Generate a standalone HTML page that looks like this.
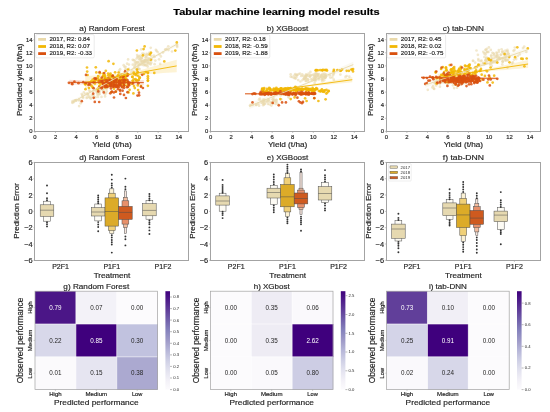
<!DOCTYPE html>
<html><head><meta charset="utf-8"><title>Tabular machine learning model results</title>
<style>html,body{margin:0;padding:0;background:#fff;width:550px;height:412px;overflow:hidden}svg{display:block;will-change:transform;filter:blur(0.3px)}text{font-family:"Liberation Sans",sans-serif;stroke:currentColor;stroke-width:0.18px;paint-order:stroke}</style>
</head><body>
<svg width="550" height="412" viewBox="0 0 550 412" font-family="Liberation Sans, sans-serif" fill="#262626" color="#262626"><g clip-path="url(#clipT0)">
<g fill="#e9d9ab" fill-opacity="0.6">
<circle cx="74.6" cy="100.4" r="1.35"/><circle cx="72.6" cy="101.1" r="1.35"/><circle cx="76.4" cy="100.6" r="1.35"/><circle cx="76.1" cy="100.2" r="1.35"/><circle cx="72.3" cy="102.8" r="1.35"/><circle cx="72.7" cy="102.1" r="1.35"/><circle cx="75.4" cy="100.6" r="1.35"/><circle cx="73.8" cy="102.1" r="1.35"/><circle cx="80.7" cy="103.3" r="1.35"/><circle cx="87.2" cy="97.5" r="1.35"/><circle cx="97.1" cy="93.1" r="1.35"/><circle cx="98.8" cy="94.3" r="1.35"/><circle cx="97.1" cy="91.8" r="1.35"/><circle cx="89.1" cy="90.4" r="1.35"/><circle cx="99.1" cy="88.8" r="1.35"/><circle cx="89.5" cy="97.6" r="1.35"/><circle cx="91.7" cy="95.0" r="1.35"/><circle cx="99.7" cy="91.4" r="1.35"/><circle cx="90.9" cy="97.7" r="1.35"/><circle cx="90.3" cy="91.5" r="1.35"/><circle cx="87.9" cy="95.2" r="1.35"/><circle cx="98.0" cy="97.0" r="1.35"/><circle cx="94.9" cy="89.8" r="1.35"/><circle cx="79.1" cy="99.6" r="1.35"/><circle cx="93.7" cy="96.4" r="1.35"/><circle cx="98.6" cy="92.6" r="1.35"/><circle cx="82.5" cy="95.2" r="1.35"/><circle cx="100.0" cy="89.2" r="1.35"/><circle cx="106.4" cy="88.9" r="1.35"/><circle cx="95.5" cy="97.3" r="1.35"/><circle cx="99.6" cy="93.9" r="1.35"/><circle cx="90.8" cy="98.7" r="1.35"/><circle cx="86.6" cy="97.9" r="1.35"/><circle cx="105.1" cy="96.4" r="1.35"/><circle cx="82.6" cy="96.9" r="1.35"/><circle cx="106.4" cy="88.3" r="1.35"/><circle cx="79.1" cy="106.1" r="1.35"/><circle cx="97.5" cy="95.0" r="1.35"/><circle cx="85.3" cy="93.8" r="1.35"/><circle cx="103.6" cy="90.4" r="1.35"/><circle cx="96.6" cy="91.8" r="1.35"/><circle cx="107.6" cy="87.8" r="1.35"/><circle cx="98.8" cy="90.8" r="1.35"/><circle cx="81.7" cy="94.1" r="1.35"/><circle cx="102.4" cy="89.7" r="1.35"/><circle cx="79.1" cy="100.5" r="1.35"/><circle cx="101.5" cy="96.9" r="1.35"/><circle cx="93.0" cy="91.2" r="1.35"/><circle cx="83.8" cy="92.4" r="1.35"/><circle cx="99.1" cy="92.8" r="1.35"/><circle cx="97.2" cy="91.0" r="1.35"/><circle cx="95.5" cy="90.1" r="1.35"/><circle cx="89.1" cy="96.7" r="1.35"/><circle cx="103.1" cy="90.9" r="1.35"/><circle cx="87.3" cy="93.3" r="1.35"/><circle cx="106.6" cy="91.2" r="1.35"/><circle cx="83.2" cy="97.8" r="1.35"/><circle cx="93.3" cy="95.0" r="1.35"/><circle cx="106.1" cy="93.1" r="1.35"/><circle cx="104.9" cy="94.2" r="1.35"/><circle cx="88.1" cy="94.0" r="1.35"/><circle cx="103.8" cy="88.3" r="1.35"/><circle cx="97.4" cy="92.4" r="1.35"/><circle cx="115.2" cy="77.9" r="1.35"/><circle cx="112.8" cy="78.1" r="1.35"/><circle cx="112.0" cy="80.6" r="1.35"/><circle cx="117.6" cy="77.0" r="1.35"/><circle cx="112.4" cy="77.6" r="1.35"/><circle cx="114.3" cy="84.2" r="1.35"/><circle cx="115.9" cy="81.6" r="1.35"/><circle cx="113.9" cy="77.5" r="1.35"/><circle cx="125.1" cy="69.7" r="1.35"/><circle cx="119.5" cy="77.6" r="1.35"/><circle cx="113.3" cy="78.0" r="1.35"/><circle cx="116.1" cy="77.2" r="1.35"/><circle cx="124.8" cy="73.9" r="1.35"/><circle cx="126.6" cy="72.5" r="1.35"/><circle cx="120.1" cy="74.0" r="1.35"/><circle cx="112.4" cy="77.5" r="1.35"/><circle cx="120.1" cy="69.2" r="1.35"/><circle cx="122.7" cy="76.5" r="1.35"/><circle cx="116.0" cy="80.9" r="1.35"/><circle cx="123.9" cy="73.1" r="1.35"/><circle cx="120.2" cy="76.3" r="1.35"/><circle cx="115.4" cy="83.1" r="1.35"/><circle cx="124.5" cy="66.8" r="1.35"/><circle cx="124.4" cy="75.2" r="1.35"/><circle cx="124.6" cy="74.6" r="1.35"/><circle cx="135.5" cy="68.5" r="1.35"/><circle cx="141.7" cy="61.1" r="1.35"/><circle cx="143.2" cy="62.6" r="1.35"/><circle cx="150.6" cy="64.4" r="1.35"/><circle cx="119.2" cy="78.9" r="1.35"/><circle cx="150.7" cy="47.8" r="1.35"/><circle cx="140.9" cy="64.8" r="1.35"/><circle cx="148.2" cy="60.1" r="1.35"/><circle cx="149.5" cy="58.3" r="1.35"/><circle cx="156.6" cy="50.9" r="1.35"/><circle cx="131.3" cy="72.0" r="1.35"/><circle cx="144.7" cy="60.9" r="1.35"/><circle cx="138.7" cy="68.8" r="1.35"/><circle cx="123.7" cy="65.2" r="1.35"/><circle cx="126.1" cy="69.3" r="1.35"/><circle cx="143.7" cy="60.7" r="1.35"/><circle cx="133.8" cy="60.2" r="1.35"/><circle cx="119.2" cy="72.0" r="1.35"/><circle cx="149.1" cy="52.9" r="1.35"/><circle cx="137.4" cy="62.2" r="1.35"/><circle cx="147.5" cy="54.6" r="1.35"/><circle cx="160.9" cy="56.4" r="1.35"/><circle cx="137.4" cy="57.0" r="1.35"/><circle cx="119.2" cy="70.5" r="1.35"/><circle cx="134.8" cy="66.5" r="1.35"/><circle cx="141.2" cy="49.4" r="1.35"/><circle cx="145.2" cy="64.9" r="1.35"/><circle cx="132.7" cy="59.8" r="1.35"/><circle cx="138.4" cy="56.8" r="1.35"/><circle cx="128.9" cy="64.6" r="1.35"/><circle cx="150.4" cy="61.0" r="1.35"/><circle cx="150.1" cy="63.4" r="1.35"/><circle cx="138.7" cy="65.3" r="1.35"/><circle cx="145.5" cy="57.5" r="1.35"/><circle cx="137.7" cy="69.6" r="1.35"/><circle cx="146.3" cy="56.9" r="1.35"/><circle cx="136.7" cy="58.5" r="1.35"/><circle cx="136.8" cy="69.4" r="1.35"/><circle cx="140.3" cy="57.4" r="1.35"/><circle cx="144.1" cy="61.5" r="1.35"/><circle cx="143.6" cy="60.9" r="1.35"/><circle cx="136.8" cy="71.3" r="1.35"/><circle cx="145.5" cy="65.4" r="1.35"/><circle cx="139.6" cy="69.0" r="1.35"/><circle cx="141.3" cy="61.9" r="1.35"/><circle cx="138.0" cy="66.7" r="1.35"/><circle cx="139.9" cy="64.2" r="1.35"/><circle cx="160.2" cy="63.9" r="1.35"/><circle cx="142.2" cy="61.5" r="1.35"/><circle cx="120.2" cy="74.1" r="1.35"/><circle cx="147.7" cy="66.6" r="1.35"/><circle cx="142.4" cy="64.0" r="1.35"/><circle cx="132.3" cy="70.2" r="1.35"/><circle cx="140.4" cy="55.5" r="1.35"/><circle cx="137.1" cy="55.1" r="1.35"/><circle cx="125.6" cy="66.8" r="1.35"/><circle cx="155.9" cy="49.8" r="1.35"/><circle cx="135.9" cy="62.1" r="1.35"/><circle cx="146.8" cy="62.8" r="1.35"/><circle cx="144.2" cy="61.5" r="1.35"/><circle cx="146.8" cy="65.2" r="1.35"/><circle cx="127.1" cy="63.7" r="1.35"/><circle cx="139.2" cy="64.4" r="1.35"/><circle cx="128.1" cy="59.4" r="1.35"/><circle cx="159.4" cy="54.4" r="1.35"/><circle cx="141.3" cy="57.6" r="1.35"/><circle cx="139.8" cy="77.6" r="1.35"/><circle cx="145.3" cy="59.9" r="1.35"/><circle cx="137.5" cy="68.7" r="1.35"/><circle cx="148.0" cy="62.4" r="1.35"/><circle cx="148.5" cy="63.8" r="1.35"/><circle cx="157.7" cy="52.0" r="1.35"/><circle cx="144.4" cy="62.5" r="1.35"/><circle cx="143.5" cy="65.2" r="1.35"/><circle cx="155.3" cy="60.6" r="1.35"/><circle cx="142.5" cy="53.5" r="1.35"/><circle cx="141.1" cy="60.2" r="1.35"/><circle cx="141.9" cy="62.4" r="1.35"/><circle cx="145.7" cy="60.6" r="1.35"/><circle cx="134.8" cy="60.5" r="1.35"/><circle cx="150.6" cy="52.3" r="1.35"/><circle cx="132.8" cy="64.7" r="1.35"/><circle cx="148.6" cy="54.9" r="1.35"/><circle cx="136.3" cy="64.3" r="1.35"/><circle cx="138.6" cy="56.1" r="1.35"/><circle cx="148.3" cy="62.3" r="1.35"/><circle cx="144.6" cy="55.1" r="1.35"/><circle cx="137.3" cy="62.8" r="1.35"/><circle cx="138.7" cy="61.9" r="1.35"/><circle cx="139.8" cy="59.3" r="1.35"/><circle cx="134.2" cy="67.5" r="1.35"/><circle cx="153.8" cy="55.7" r="1.35"/><circle cx="139.2" cy="58.8" r="1.35"/><circle cx="151.9" cy="59.5" r="1.35"/><circle cx="147.7" cy="59.9" r="1.35"/><circle cx="145.6" cy="60.0" r="1.35"/><circle cx="151.3" cy="62.7" r="1.35"/><circle cx="159.1" cy="59.3" r="1.35"/><circle cx="154.5" cy="57.0" r="1.35"/><circle cx="151.3" cy="56.1" r="1.35"/><circle cx="143.7" cy="53.8" r="1.35"/><circle cx="144.4" cy="64.6" r="1.35"/><circle cx="140.7" cy="73.9" r="1.35"/><circle cx="146.6" cy="53.9" r="1.35"/><circle cx="154.6" cy="64.2" r="1.35"/><circle cx="147.8" cy="58.3" r="1.35"/><circle cx="134.0" cy="71.7" r="1.35"/><circle cx="142.1" cy="57.7" r="1.35"/><circle cx="141.8" cy="58.5" r="1.35"/><circle cx="128.8" cy="68.9" r="1.35"/><circle cx="134.9" cy="65.0" r="1.35"/><circle cx="145.6" cy="60.0" r="1.35"/><circle cx="145.7" cy="61.5" r="1.35"/><circle cx="134.9" cy="62.9" r="1.35"/><circle cx="146.5" cy="55.7" r="1.35"/><circle cx="172.0" cy="51.5" r="1.35"/><circle cx="165.2" cy="49.5" r="1.35"/><circle cx="168.3" cy="46.3" r="1.35"/><circle cx="163.0" cy="52.4" r="1.35"/><circle cx="177.0" cy="44.4" r="1.35"/><circle cx="177.2" cy="46.9" r="1.35"/><circle cx="177.1" cy="45.7" r="1.35"/><circle cx="165.7" cy="49.5" r="1.35"/><circle cx="166.9" cy="48.9" r="1.35"/><circle cx="168.5" cy="50.1" r="1.35"/>
</g>
<polygon points="73.0,100.0 78.2,97.2 83.4,94.5 88.5,91.7 93.7,88.9 98.9,86.2 104.1,83.4 109.3,80.6 114.5,77.9 119.6,75.1 124.8,72.3 130.0,69.4 135.2,66.4 140.4,63.4 145.6,60.4 150.8,57.4 155.9,54.4 161.1,51.4 166.3,48.4 171.5,45.4 176.7,42.4 176.7,46.3 171.5,49.1 166.3,51.8 161.1,54.6 155.9,57.3 150.8,60.1 145.6,62.9 140.4,65.6 135.2,68.4 130.0,71.2 124.8,73.9 119.6,76.9 114.5,79.9 109.3,82.9 104.1,85.9 98.9,88.9 93.7,91.9 88.5,94.9 83.4,97.9 78.2,100.9 73.0,103.9" fill="#e9d9ab" fill-opacity="0.17"/>
<g fill="#f2b705" fill-opacity="0.85">
<circle cx="114.9" cy="80.7" r="1.35"/><circle cx="115.0" cy="80.4" r="1.35"/><circle cx="121.3" cy="80.7" r="1.35"/><circle cx="117.6" cy="76.0" r="1.35"/><circle cx="116.8" cy="79.4" r="1.35"/><circle cx="134.0" cy="86.1" r="1.35"/><circle cx="110.7" cy="84.7" r="1.35"/><circle cx="96.0" cy="78.6" r="1.35"/><circle cx="105.2" cy="87.4" r="1.35"/><circle cx="147.9" cy="72.6" r="1.35"/><circle cx="133.7" cy="79.3" r="1.35"/><circle cx="111.7" cy="75.5" r="1.35"/><circle cx="89.0" cy="88.0" r="1.35"/><circle cx="98.3" cy="80.8" r="1.35"/><circle cx="107.8" cy="86.4" r="1.35"/><circle cx="112.5" cy="76.1" r="1.35"/><circle cx="92.7" cy="79.5" r="1.35"/><circle cx="98.2" cy="76.2" r="1.35"/><circle cx="101.5" cy="82.7" r="1.35"/><circle cx="105.3" cy="78.7" r="1.35"/><circle cx="116.6" cy="81.5" r="1.35"/><circle cx="120.3" cy="76.6" r="1.35"/><circle cx="99.3" cy="86.3" r="1.35"/><circle cx="100.6" cy="83.9" r="1.35"/><circle cx="100.0" cy="73.2" r="1.35"/><circle cx="115.6" cy="80.2" r="1.35"/><circle cx="98.1" cy="88.6" r="1.35"/><circle cx="110.5" cy="73.6" r="1.35"/><circle cx="124.5" cy="79.3" r="1.35"/><circle cx="120.7" cy="80.4" r="1.35"/><circle cx="138.2" cy="75.8" r="1.35"/><circle cx="137.7" cy="72.6" r="1.35"/><circle cx="112.5" cy="84.4" r="1.35"/><circle cx="126.1" cy="82.4" r="1.35"/><circle cx="92.6" cy="87.4" r="1.35"/><circle cx="101.3" cy="79.2" r="1.35"/><circle cx="118.9" cy="80.0" r="1.35"/><circle cx="138.8" cy="80.0" r="1.35"/><circle cx="132.6" cy="76.9" r="1.35"/><circle cx="115.5" cy="81.0" r="1.35"/><circle cx="136.4" cy="80.7" r="1.35"/><circle cx="94.9" cy="83.6" r="1.35"/><circle cx="131.8" cy="83.8" r="1.35"/><circle cx="118.6" cy="72.5" r="1.35"/><circle cx="135.7" cy="74.1" r="1.35"/><circle cx="147.9" cy="76.2" r="1.35"/><circle cx="114.0" cy="88.7" r="1.35"/><circle cx="121.9" cy="74.5" r="1.35"/><circle cx="112.0" cy="80.9" r="1.35"/><circle cx="124.9" cy="76.2" r="1.35"/><circle cx="111.8" cy="82.8" r="1.35"/><circle cx="111.2" cy="92.1" r="1.35"/><circle cx="109.7" cy="74.8" r="1.35"/><circle cx="134.8" cy="88.1" r="1.35"/><circle cx="113.4" cy="81.4" r="1.35"/><circle cx="105.1" cy="76.8" r="1.35"/><circle cx="105.1" cy="80.8" r="1.35"/><circle cx="115.3" cy="85.3" r="1.35"/><circle cx="115.9" cy="81.0" r="1.35"/><circle cx="122.6" cy="81.8" r="1.35"/><circle cx="125.5" cy="79.1" r="1.35"/><circle cx="114.4" cy="80.2" r="1.35"/><circle cx="87.6" cy="75.0" r="1.35"/><circle cx="137.6" cy="80.4" r="1.35"/><circle cx="85.3" cy="84.2" r="1.35"/><circle cx="128.5" cy="92.4" r="1.35"/><circle cx="147.9" cy="80.8" r="1.35"/><circle cx="107.9" cy="84.3" r="1.35"/><circle cx="120.1" cy="77.6" r="1.35"/><circle cx="117.1" cy="78.1" r="1.35"/><circle cx="104.9" cy="77.9" r="1.35"/><circle cx="110.8" cy="81.2" r="1.35"/><circle cx="132.2" cy="76.9" r="1.35"/><circle cx="128.0" cy="69.5" r="1.35"/><circle cx="107.0" cy="78.5" r="1.35"/><circle cx="96.3" cy="72.4" r="1.35"/><circle cx="97.4" cy="89.1" r="1.35"/><circle cx="108.1" cy="73.6" r="1.35"/><circle cx="122.2" cy="87.0" r="1.35"/><circle cx="122.4" cy="81.9" r="1.35"/><circle cx="105.8" cy="70.8" r="1.35"/><circle cx="125.0" cy="75.5" r="1.35"/><circle cx="126.7" cy="81.3" r="1.35"/><circle cx="125.1" cy="80.1" r="1.35"/><circle cx="85.3" cy="83.5" r="1.35"/><circle cx="136.0" cy="80.1" r="1.35"/><circle cx="132.5" cy="80.8" r="1.35"/><circle cx="120.4" cy="78.0" r="1.35"/><circle cx="123.4" cy="74.8" r="1.35"/><circle cx="105.7" cy="79.2" r="1.35"/><circle cx="145.8" cy="72.1" r="1.35"/><circle cx="114.7" cy="78.3" r="1.35"/><circle cx="122.3" cy="75.9" r="1.35"/><circle cx="122.2" cy="76.6" r="1.35"/><circle cx="120.8" cy="80.0" r="1.35"/><circle cx="133.7" cy="72.5" r="1.35"/><circle cx="99.5" cy="85.9" r="1.35"/><circle cx="122.8" cy="84.0" r="1.35"/><circle cx="113.0" cy="81.3" r="1.35"/><circle cx="119.5" cy="81.9" r="1.35"/><circle cx="147.9" cy="73.1" r="1.35"/><circle cx="127.2" cy="85.5" r="1.35"/><circle cx="94.2" cy="81.4" r="1.35"/><circle cx="126.2" cy="79.1" r="1.35"/><circle cx="129.6" cy="89.8" r="1.35"/><circle cx="127.0" cy="73.5" r="1.35"/><circle cx="91.3" cy="81.3" r="1.35"/><circle cx="115.6" cy="82.7" r="1.35"/><circle cx="85.5" cy="89.2" r="1.35"/><circle cx="118.3" cy="75.2" r="1.35"/><circle cx="115.1" cy="72.3" r="1.35"/><circle cx="103.2" cy="73.6" r="1.35"/><circle cx="85.3" cy="83.0" r="1.35"/><circle cx="122.0" cy="76.3" r="1.35"/><circle cx="129.5" cy="83.5" r="1.35"/><circle cx="85.3" cy="84.3" r="1.35"/><circle cx="94.7" cy="81.7" r="1.35"/><circle cx="99.3" cy="83.0" r="1.35"/><circle cx="113.8" cy="79.6" r="1.35"/><circle cx="104.8" cy="75.2" r="1.35"/><circle cx="105.1" cy="82.0" r="1.35"/><circle cx="122.2" cy="79.6" r="1.35"/><circle cx="135.5" cy="79.0" r="1.35"/><circle cx="108.4" cy="75.6" r="1.35"/><circle cx="122.6" cy="83.5" r="1.35"/><circle cx="108.0" cy="79.8" r="1.35"/><circle cx="134.3" cy="74.4" r="1.35"/><circle cx="115.9" cy="91.7" r="1.35"/><circle cx="124.0" cy="85.4" r="1.35"/><circle cx="91.6" cy="85.9" r="1.35"/><circle cx="116.7" cy="79.8" r="1.35"/><circle cx="147.9" cy="78.2" r="1.35"/><circle cx="103.3" cy="75.9" r="1.35"/><circle cx="117.4" cy="82.2" r="1.35"/><circle cx="101.7" cy="81.8" r="1.35"/><circle cx="136.4" cy="75.2" r="1.35"/><circle cx="110.4" cy="76.5" r="1.35"/><circle cx="117.9" cy="86.2" r="1.35"/><circle cx="125.5" cy="76.5" r="1.35"/><circle cx="139.4" cy="78.3" r="1.35"/><circle cx="98.1" cy="78.4" r="1.35"/><circle cx="147.9" cy="80.4" r="1.35"/><circle cx="139.7" cy="77.4" r="1.35"/><circle cx="125.2" cy="79.0" r="1.35"/><circle cx="103.1" cy="76.1" r="1.35"/><circle cx="110.1" cy="79.4" r="1.35"/><circle cx="124.5" cy="85.3" r="1.35"/><circle cx="125.7" cy="76.7" r="1.35"/><circle cx="112.5" cy="83.0" r="1.35"/><circle cx="121.3" cy="77.0" r="1.35"/><circle cx="87.0" cy="67.5" r="1.35"/><circle cx="87.2" cy="71.6" r="1.35"/><circle cx="113.4" cy="63.8" r="1.35"/><circle cx="108.6" cy="61.2" r="1.35"/><circle cx="95.8" cy="67.3" r="1.35"/><circle cx="143.6" cy="49.1" r="1.35"/><circle cx="137.0" cy="69.7" r="1.35"/><circle cx="164.3" cy="61.4" r="1.35"/><circle cx="149.9" cy="54.4" r="1.35"/><circle cx="142.9" cy="55.4" r="1.35"/><circle cx="150.8" cy="59.7" r="1.35"/><circle cx="176.8" cy="42.4" r="1.35"/><circle cx="144.6" cy="46.4" r="1.35"/><circle cx="151.0" cy="52.8" r="1.35"/><circle cx="154.3" cy="72.9" r="1.35"/><circle cx="137.7" cy="72.1" r="1.35"/><circle cx="175.3" cy="50.6" r="1.35"/><circle cx="143.9" cy="73.9" r="1.35"/><circle cx="136.9" cy="50.5" r="1.35"/><circle cx="141.0" cy="86.1" r="1.35"/><circle cx="133.4" cy="93.4" r="1.35"/><circle cx="133.2" cy="81.4" r="1.35"/><circle cx="137.8" cy="85.4" r="1.35"/><circle cx="147.9" cy="85.8" r="1.35"/><circle cx="138.1" cy="90.0" r="1.35"/>
</g>
<polygon points="85.3,76.1 89.9,75.8 94.4,75.4 99.0,75.1 103.6,74.8 108.1,74.4 112.7,74.1 117.3,73.8 121.9,73.5 126.4,73.1 131.0,72.8 135.6,71.5 140.1,70.2 144.7,68.9 149.3,67.6 153.8,66.3 158.4,65.0 163.0,63.6 167.5,62.3 172.1,61.0 176.7,59.7 176.7,72.2 172.1,72.5 167.5,72.8 163.0,73.1 158.4,73.5 153.8,73.8 149.3,74.1 144.7,74.4 140.1,74.8 135.6,75.1 131.0,75.4 126.4,76.7 121.9,78.0 117.3,79.4 112.7,80.7 108.1,82.0 103.6,83.3 99.0,84.6 94.4,85.9 89.9,87.2 85.3,88.5" fill="#f2b705" fill-opacity="0.17"/>
<g fill="#d9510f" fill-opacity="0.85">
<circle cx="129.1" cy="85.3" r="1.35"/><circle cx="112.7" cy="76.4" r="1.35"/><circle cx="110.4" cy="80.2" r="1.35"/><circle cx="133.0" cy="83.4" r="1.35"/><circle cx="127.9" cy="86.9" r="1.35"/><circle cx="116.4" cy="84.0" r="1.35"/><circle cx="115.4" cy="78.4" r="1.35"/><circle cx="141.0" cy="86.7" r="1.35"/><circle cx="107.6" cy="81.3" r="1.35"/><circle cx="102.1" cy="81.3" r="1.35"/><circle cx="120.5" cy="84.9" r="1.35"/><circle cx="120.1" cy="90.7" r="1.35"/><circle cx="122.6" cy="90.7" r="1.35"/><circle cx="106.2" cy="86.2" r="1.35"/><circle cx="109.5" cy="79.7" r="1.35"/><circle cx="115.0" cy="85.4" r="1.35"/><circle cx="120.2" cy="76.4" r="1.35"/><circle cx="114.1" cy="81.9" r="1.35"/><circle cx="128.1" cy="82.4" r="1.35"/><circle cx="99.6" cy="72.2" r="1.35"/><circle cx="139.0" cy="92.7" r="1.35"/><circle cx="113.6" cy="81.7" r="1.35"/><circle cx="125.0" cy="80.5" r="1.35"/><circle cx="111.0" cy="88.4" r="1.35"/><circle cx="115.2" cy="78.9" r="1.35"/><circle cx="101.7" cy="88.3" r="1.35"/><circle cx="113.8" cy="92.5" r="1.35"/><circle cx="111.1" cy="85.6" r="1.35"/><circle cx="119.1" cy="86.8" r="1.35"/><circle cx="104.1" cy="85.4" r="1.35"/><circle cx="113.5" cy="86.7" r="1.35"/><circle cx="114.2" cy="80.2" r="1.35"/><circle cx="127.4" cy="75.8" r="1.35"/><circle cx="105.2" cy="85.5" r="1.35"/><circle cx="86.0" cy="74.9" r="1.35"/><circle cx="105.9" cy="83.8" r="1.35"/><circle cx="120.0" cy="89.8" r="1.35"/><circle cx="119.3" cy="83.7" r="1.35"/><circle cx="93.4" cy="82.3" r="1.35"/><circle cx="127.5" cy="92.2" r="1.35"/><circle cx="123.2" cy="82.7" r="1.35"/><circle cx="119.4" cy="81.6" r="1.35"/><circle cx="128.8" cy="84.6" r="1.35"/><circle cx="123.9" cy="85.5" r="1.35"/><circle cx="122.3" cy="87.3" r="1.35"/><circle cx="112.8" cy="75.7" r="1.35"/><circle cx="119.1" cy="84.3" r="1.35"/><circle cx="101.1" cy="87.2" r="1.35"/><circle cx="116.2" cy="79.3" r="1.35"/><circle cx="118.9" cy="81.2" r="1.35"/><circle cx="113.6" cy="77.4" r="1.35"/><circle cx="109.6" cy="86.1" r="1.35"/><circle cx="124.1" cy="83.3" r="1.35"/><circle cx="110.9" cy="86.2" r="1.35"/><circle cx="111.2" cy="80.8" r="1.35"/><circle cx="118.0" cy="89.2" r="1.35"/><circle cx="118.9" cy="82.8" r="1.35"/><circle cx="102.8" cy="80.1" r="1.35"/><circle cx="110.9" cy="85.1" r="1.35"/><circle cx="123.0" cy="77.6" r="1.35"/><circle cx="106.3" cy="81.6" r="1.35"/><circle cx="104.2" cy="73.0" r="1.35"/><circle cx="108.5" cy="78.1" r="1.35"/><circle cx="106.7" cy="79.9" r="1.35"/><circle cx="139.1" cy="95.3" r="1.35"/><circle cx="109.1" cy="81.3" r="1.35"/><circle cx="113.0" cy="86.7" r="1.35"/><circle cx="138.4" cy="83.2" r="1.35"/><circle cx="95.5" cy="79.7" r="1.35"/><circle cx="94.6" cy="78.3" r="1.35"/><circle cx="107.5" cy="82.9" r="1.35"/><circle cx="128.3" cy="83.1" r="1.35"/><circle cx="98.3" cy="91.4" r="1.35"/><circle cx="127.4" cy="80.2" r="1.35"/><circle cx="104.8" cy="79.7" r="1.35"/><circle cx="119.7" cy="80.6" r="1.35"/><circle cx="88.5" cy="85.0" r="1.35"/><circle cx="124.2" cy="80.2" r="1.35"/><circle cx="124.0" cy="94.9" r="1.35"/><circle cx="116.0" cy="81.4" r="1.35"/><circle cx="142.9" cy="88.0" r="1.35"/><circle cx="110.3" cy="83.4" r="1.35"/><circle cx="124.1" cy="85.6" r="1.35"/><circle cx="127.0" cy="87.2" r="1.35"/><circle cx="117.1" cy="86.0" r="1.35"/><circle cx="115.8" cy="86.8" r="1.35"/><circle cx="96.0" cy="78.6" r="1.35"/><circle cx="117.5" cy="86.2" r="1.35"/><circle cx="116.3" cy="79.1" r="1.35"/><circle cx="103.0" cy="84.1" r="1.35"/><circle cx="120.1" cy="81.2" r="1.35"/><circle cx="110.3" cy="93.3" r="1.35"/><circle cx="128.1" cy="82.1" r="1.35"/><circle cx="114.2" cy="84.9" r="1.35"/><circle cx="117.0" cy="85.6" r="1.35"/><circle cx="102.5" cy="87.0" r="1.35"/><circle cx="107.3" cy="86.4" r="1.35"/><circle cx="101.0" cy="80.7" r="1.35"/><circle cx="99.3" cy="80.6" r="1.35"/><circle cx="102.6" cy="82.0" r="1.35"/><circle cx="129.6" cy="82.7" r="1.35"/><circle cx="105.8" cy="83.4" r="1.35"/><circle cx="115.7" cy="91.6" r="1.35"/><circle cx="107.2" cy="82.9" r="1.35"/><circle cx="108.8" cy="83.2" r="1.35"/><circle cx="122.3" cy="80.1" r="1.35"/><circle cx="124.3" cy="80.9" r="1.35"/><circle cx="110.8" cy="83.7" r="1.35"/><circle cx="111.0" cy="85.0" r="1.35"/><circle cx="112.0" cy="91.5" r="1.35"/><circle cx="110.3" cy="83.7" r="1.35"/><circle cx="103.1" cy="83.7" r="1.35"/><circle cx="119.9" cy="84.4" r="1.35"/><circle cx="137.5" cy="95.6" r="1.35"/><circle cx="111.7" cy="92.0" r="1.35"/><circle cx="125.1" cy="71.4" r="1.35"/><circle cx="85.8" cy="83.0" r="1.35"/><circle cx="119.9" cy="85.0" r="1.35"/><circle cx="120.3" cy="93.9" r="1.35"/><circle cx="123.7" cy="81.9" r="1.35"/><circle cx="114.3" cy="86.3" r="1.35"/><circle cx="121.3" cy="85.8" r="1.35"/><circle cx="116.6" cy="85.9" r="1.35"/><circle cx="88.7" cy="83.8" r="1.35"/><circle cx="116.3" cy="80.2" r="1.35"/><circle cx="104.2" cy="83.8" r="1.35"/><circle cx="121.0" cy="82.9" r="1.35"/><circle cx="128.1" cy="74.5" r="1.35"/><circle cx="103.8" cy="92.4" r="1.35"/><circle cx="123.7" cy="76.6" r="1.35"/><circle cx="124.5" cy="79.9" r="1.35"/><circle cx="107.1" cy="86.9" r="1.35"/><circle cx="124.1" cy="87.8" r="1.35"/><circle cx="93.6" cy="88.2" r="1.35"/><circle cx="142.2" cy="74.8" r="1.35"/><circle cx="106.3" cy="86.9" r="1.35"/><circle cx="116.7" cy="87.0" r="1.35"/><circle cx="128.8" cy="84.0" r="1.35"/><circle cx="101.8" cy="77.6" r="1.35"/><circle cx="107.5" cy="82.6" r="1.35"/><circle cx="113.9" cy="85.1" r="1.35"/><circle cx="117.7" cy="86.8" r="1.35"/><circle cx="93.2" cy="93.7" r="1.35"/><circle cx="99.7" cy="87.1" r="1.35"/><circle cx="113.8" cy="83.4" r="1.35"/><circle cx="120.3" cy="83.1" r="1.35"/><circle cx="105.1" cy="86.9" r="1.35"/><circle cx="90.1" cy="84.4" r="1.35"/><circle cx="119.5" cy="81.2" r="1.35"/><circle cx="112.7" cy="84.4" r="1.35"/><circle cx="68.9" cy="82.8" r="1.35"/><circle cx="74.4" cy="81.7" r="1.35"/><circle cx="72.3" cy="84.2" r="1.35"/><circle cx="72.0" cy="83.4" r="1.35"/><circle cx="78.5" cy="83.2" r="1.35"/><circle cx="83.3" cy="82.2" r="1.35"/><circle cx="93.7" cy="97.8" r="1.35"/><circle cx="114.0" cy="97.5" r="1.35"/><circle cx="125.9" cy="98.0" r="1.35"/><circle cx="94.8" cy="101.9" r="1.35"/><circle cx="81.8" cy="101.2" r="1.35"/><circle cx="99.2" cy="102.0" r="1.35"/>
</g>
<polygon points="69.4,79.7 73.1,79.9 76.8,80.1 80.6,80.3 84.3,80.5 88.0,80.7 91.7,80.9 95.4,81.1 99.2,81.3 102.9,81.5 106.6,81.7 110.3,81.5 114.1,81.3 117.8,81.2 121.5,81.0 125.2,80.8 128.9,80.7 132.7,80.5 136.4,80.3 140.1,80.2 143.8,80.0 143.8,85.2 140.1,85.0 136.4,84.8 132.7,84.6 128.9,84.4 125.2,84.2 121.5,84.0 117.8,83.8 114.1,83.6 110.3,83.4 106.6,83.2 102.9,83.4 99.2,83.6 95.4,83.8 91.7,83.9 88.0,84.1 84.3,84.3 80.6,84.4 76.8,84.6 73.1,84.8 69.4,84.9" fill="#d9510f" fill-opacity="0.17"/>
<line x1="73.0" y1="101.9" x2="176.7" y2="44.3" stroke="#e9d9ab" stroke-width="0.9"/>
<line x1="85.3" y1="82.3" x2="176.7" y2="65.9" stroke="#f2b705" stroke-width="0.9"/>
<line x1="69.4" y1="82.3" x2="143.8" y2="82.6" stroke="#d9510f" stroke-width="0.9"/>
</g>
<rect x="34.5" y="33.5" width="154.0" height="98" fill="none" stroke="#a3a3a3" stroke-width="1"/>
<line x1="35.0" y1="131.4" x2="35.0" y2="133.0" stroke="#a3a3a3" stroke-width="0.6"/>
<text x="35.00" y="138.90" font-size="5.9" text-anchor="middle">0</text>
<line x1="35.0" y1="131.4" x2="33.4" y2="131.4" stroke="#a3a3a3" stroke-width="0.6"/>
<text x="32.60" y="133.45" font-size="5.9" text-anchor="end">0</text>
<line x1="55.5" y1="131.4" x2="55.5" y2="133.0" stroke="#a3a3a3" stroke-width="0.6"/>
<text x="55.53" y="138.90" font-size="5.9" text-anchor="middle">2</text>
<line x1="35.0" y1="118.3" x2="33.4" y2="118.3" stroke="#a3a3a3" stroke-width="0.6"/>
<text x="32.60" y="120.36" font-size="5.9" text-anchor="end">2</text>
<line x1="76.1" y1="131.4" x2="76.1" y2="133.0" stroke="#a3a3a3" stroke-width="0.6"/>
<text x="76.07" y="138.90" font-size="5.9" text-anchor="middle">4</text>
<line x1="35.0" y1="105.2" x2="33.4" y2="105.2" stroke="#a3a3a3" stroke-width="0.6"/>
<text x="32.60" y="107.26" font-size="5.9" text-anchor="end">4</text>
<line x1="96.6" y1="131.4" x2="96.6" y2="133.0" stroke="#a3a3a3" stroke-width="0.6"/>
<text x="96.60" y="138.90" font-size="5.9" text-anchor="middle">6</text>
<line x1="35.0" y1="92.1" x2="33.4" y2="92.1" stroke="#a3a3a3" stroke-width="0.6"/>
<text x="32.60" y="94.17" font-size="5.9" text-anchor="end">6</text>
<line x1="117.1" y1="131.4" x2="117.1" y2="133.0" stroke="#a3a3a3" stroke-width="0.6"/>
<text x="117.13" y="138.90" font-size="5.9" text-anchor="middle">8</text>
<line x1="35.0" y1="79.0" x2="33.4" y2="79.0" stroke="#a3a3a3" stroke-width="0.6"/>
<text x="32.60" y="81.08" font-size="5.9" text-anchor="end">8</text>
<line x1="137.7" y1="131.4" x2="137.7" y2="133.0" stroke="#a3a3a3" stroke-width="0.6"/>
<text x="137.67" y="138.90" font-size="5.9" text-anchor="middle">10</text>
<line x1="35.0" y1="65.9" x2="33.4" y2="65.9" stroke="#a3a3a3" stroke-width="0.6"/>
<text x="32.60" y="67.98" font-size="5.9" text-anchor="end">10</text>
<line x1="158.2" y1="131.4" x2="158.2" y2="133.0" stroke="#a3a3a3" stroke-width="0.6"/>
<text x="158.20" y="138.90" font-size="5.9" text-anchor="middle">12</text>
<line x1="35.0" y1="52.8" x2="33.4" y2="52.8" stroke="#a3a3a3" stroke-width="0.6"/>
<text x="32.60" y="54.89" font-size="5.9" text-anchor="end">12</text>
<line x1="178.7" y1="131.4" x2="178.7" y2="133.0" stroke="#a3a3a3" stroke-width="0.6"/>
<text x="178.73" y="138.90" font-size="5.9" text-anchor="middle">14</text>
<line x1="35.0" y1="39.7" x2="33.4" y2="39.7" stroke="#a3a3a3" stroke-width="0.6"/>
<text x="32.60" y="41.80" font-size="5.9" text-anchor="end">14</text>
<text x="112.00" y="31.10" font-size="7.7" text-anchor="middle" textLength="65.5" lengthAdjust="spacingAndGlyphs">a) Random Forest</text>
<text x="112.00" y="146.60" font-size="7.5" text-anchor="middle" textLength="39.4" lengthAdjust="spacingAndGlyphs">Yield (t/ha)</text>
<text x="21.60" y="79.80" font-size="7.5" text-anchor="middle" textLength="72.5" lengthAdjust="spacingAndGlyphs" transform="rotate(-90 21.60 79.80)">Predicted yield (t/ha)</text>
<rect x="35.8" y="34.6" width="58.4" height="23.3" rx="1.2" fill="#ffffff" fill-opacity="0.8" stroke="#dddddd" stroke-width="0.6"/>
<rect x="38.2" y="38.0" width="7.8" height="2.8" fill="#e9d9ab"/>
<text x="49.40" y="41.00" font-size="6.2" text-anchor="start">2017, R2: 0.84</text>
<rect x="38.2" y="45.1" width="7.8" height="2.8" fill="#f2b705"/>
<text x="49.40" y="48.10" font-size="6.2" text-anchor="start">2018, R2: 0.07</text>
<rect x="38.2" y="52.2" width="7.8" height="2.8" fill="#d9510f"/>
<text x="49.40" y="55.20" font-size="6.2" text-anchor="start">2019, R2: -0.33</text>
<g clip-path="url(#clipT1)">
<g fill="#e9d9ab" fill-opacity="0.6">
<circle cx="271.4" cy="105.6" r="1.35"/><circle cx="273.2" cy="99.7" r="1.35"/><circle cx="263.7" cy="100.8" r="1.35"/><circle cx="269.2" cy="101.6" r="1.35"/><circle cx="266.8" cy="101.2" r="1.35"/><circle cx="274.0" cy="100.6" r="1.35"/><circle cx="259.1" cy="105.7" r="1.35"/><circle cx="261.6" cy="102.8" r="1.35"/><circle cx="262.7" cy="103.1" r="1.35"/><circle cx="271.4" cy="102.8" r="1.35"/><circle cx="274.7" cy="100.5" r="1.35"/><circle cx="264.7" cy="99.8" r="1.35"/><circle cx="259.8" cy="98.6" r="1.35"/><circle cx="272.8" cy="103.5" r="1.35"/><circle cx="259.0" cy="99.5" r="1.35"/><circle cx="267.9" cy="104.0" r="1.35"/><circle cx="273.3" cy="102.6" r="1.35"/><circle cx="260.9" cy="100.9" r="1.35"/><circle cx="263.4" cy="99.6" r="1.35"/><circle cx="273.5" cy="100.9" r="1.35"/><circle cx="272.4" cy="99.5" r="1.35"/><circle cx="264.0" cy="103.8" r="1.35"/><circle cx="269.7" cy="104.5" r="1.35"/><circle cx="269.1" cy="99.9" r="1.35"/><circle cx="264.0" cy="104.5" r="1.35"/><circle cx="263.1" cy="105.2" r="1.35"/><circle cx="276.0" cy="99.8" r="1.35"/><circle cx="263.5" cy="101.1" r="1.35"/><circle cx="273.4" cy="98.2" r="1.35"/><circle cx="265.2" cy="102.4" r="1.35"/><circle cx="276.0" cy="102.0" r="1.35"/><circle cx="276.6" cy="100.0" r="1.35"/><circle cx="271.2" cy="102.3" r="1.35"/><circle cx="278.0" cy="104.0" r="1.35"/><circle cx="268.0" cy="99.7" r="1.35"/><circle cx="275.6" cy="103.9" r="1.35"/><circle cx="267.4" cy="101.7" r="1.35"/><circle cx="264.9" cy="103.8" r="1.35"/><circle cx="263.0" cy="101.9" r="1.35"/><circle cx="276.6" cy="101.8" r="1.35"/><circle cx="250.9" cy="105.2" r="1.35"/><circle cx="258.2" cy="103.6" r="1.35"/><circle cx="252.8" cy="105.0" r="1.35"/><circle cx="250.0" cy="105.6" r="1.35"/><circle cx="256.0" cy="104.9" r="1.35"/><circle cx="256.4" cy="104.9" r="1.35"/><circle cx="326.1" cy="75.9" r="1.35"/><circle cx="298.6" cy="74.0" r="1.35"/><circle cx="322.3" cy="81.2" r="1.35"/><circle cx="333.0" cy="75.3" r="1.35"/><circle cx="333.8" cy="79.7" r="1.35"/><circle cx="318.2" cy="76.1" r="1.35"/><circle cx="314.5" cy="76.7" r="1.35"/><circle cx="324.1" cy="80.3" r="1.35"/><circle cx="298.2" cy="80.1" r="1.35"/><circle cx="305.9" cy="78.4" r="1.35"/><circle cx="316.4" cy="76.5" r="1.35"/><circle cx="312.6" cy="78.5" r="1.35"/><circle cx="307.2" cy="75.0" r="1.35"/><circle cx="320.9" cy="76.8" r="1.35"/><circle cx="308.6" cy="73.7" r="1.35"/><circle cx="305.5" cy="75.7" r="1.35"/><circle cx="325.3" cy="77.6" r="1.35"/><circle cx="321.6" cy="79.5" r="1.35"/><circle cx="323.7" cy="76.6" r="1.35"/><circle cx="294.3" cy="75.6" r="1.35"/><circle cx="302.2" cy="74.3" r="1.35"/><circle cx="304.6" cy="77.4" r="1.35"/><circle cx="315.4" cy="77.8" r="1.35"/><circle cx="315.2" cy="78.3" r="1.35"/><circle cx="319.8" cy="77.1" r="1.35"/><circle cx="314.6" cy="83.0" r="1.35"/><circle cx="325.4" cy="77.0" r="1.35"/><circle cx="292.1" cy="76.9" r="1.35"/><circle cx="317.5" cy="74.7" r="1.35"/><circle cx="300.0" cy="73.7" r="1.35"/><circle cx="310.4" cy="71.9" r="1.35"/><circle cx="310.6" cy="75.6" r="1.35"/><circle cx="308.1" cy="79.5" r="1.35"/><circle cx="324.6" cy="75.1" r="1.35"/><circle cx="329.6" cy="75.2" r="1.35"/><circle cx="305.8" cy="80.7" r="1.35"/><circle cx="304.9" cy="78.5" r="1.35"/><circle cx="303.0" cy="75.8" r="1.35"/><circle cx="315.9" cy="77.6" r="1.35"/><circle cx="314.2" cy="77.4" r="1.35"/><circle cx="314.6" cy="75.4" r="1.35"/><circle cx="323.1" cy="78.5" r="1.35"/><circle cx="295.2" cy="74.0" r="1.35"/><circle cx="313.5" cy="74.7" r="1.35"/><circle cx="293.7" cy="77.8" r="1.35"/><circle cx="312.5" cy="80.2" r="1.35"/><circle cx="306.4" cy="75.5" r="1.35"/><circle cx="324.4" cy="73.6" r="1.35"/><circle cx="302.5" cy="80.1" r="1.35"/><circle cx="318.1" cy="75.0" r="1.35"/><circle cx="314.4" cy="79.9" r="1.35"/><circle cx="321.1" cy="75.4" r="1.35"/><circle cx="318.5" cy="78.1" r="1.35"/><circle cx="315.7" cy="75.4" r="1.35"/><circle cx="305.9" cy="81.0" r="1.35"/><circle cx="316.0" cy="76.0" r="1.35"/><circle cx="312.4" cy="75.1" r="1.35"/><circle cx="305.6" cy="77.2" r="1.35"/><circle cx="308.8" cy="75.8" r="1.35"/><circle cx="330.3" cy="77.6" r="1.35"/><circle cx="333.8" cy="73.8" r="1.35"/><circle cx="321.2" cy="75.8" r="1.35"/><circle cx="332.2" cy="77.5" r="1.35"/><circle cx="311.0" cy="79.4" r="1.35"/><circle cx="317.6" cy="74.2" r="1.35"/><circle cx="318.3" cy="76.1" r="1.35"/><circle cx="310.0" cy="76.7" r="1.35"/><circle cx="296.1" cy="74.8" r="1.35"/><circle cx="307.6" cy="79.4" r="1.35"/><circle cx="303.8" cy="78.8" r="1.35"/><circle cx="321.9" cy="74.8" r="1.35"/><circle cx="296.9" cy="75.1" r="1.35"/><circle cx="322.3" cy="78.3" r="1.35"/><circle cx="295.5" cy="78.7" r="1.35"/><circle cx="305.1" cy="76.3" r="1.35"/><circle cx="308.2" cy="81.4" r="1.35"/><circle cx="314.9" cy="80.4" r="1.35"/><circle cx="322.5" cy="79.7" r="1.35"/><circle cx="304.4" cy="78.9" r="1.35"/><circle cx="306.1" cy="74.3" r="1.35"/><circle cx="321.9" cy="75.8" r="1.35"/><circle cx="315.8" cy="80.4" r="1.35"/><circle cx="306.4" cy="78.3" r="1.35"/><circle cx="301.2" cy="76.0" r="1.35"/><circle cx="303.9" cy="78.6" r="1.35"/><circle cx="300.4" cy="81.5" r="1.35"/><circle cx="319.0" cy="74.2" r="1.35"/><circle cx="314.2" cy="79.2" r="1.35"/><circle cx="290.7" cy="76.7" r="1.35"/><circle cx="326.0" cy="76.4" r="1.35"/><circle cx="322.7" cy="73.9" r="1.35"/><circle cx="325.0" cy="78.0" r="1.35"/><circle cx="324.1" cy="75.4" r="1.35"/><circle cx="294.9" cy="77.9" r="1.35"/><circle cx="296.2" cy="77.3" r="1.35"/><circle cx="318.8" cy="79.4" r="1.35"/><circle cx="290.7" cy="74.3" r="1.35"/><circle cx="316.5" cy="73.9" r="1.35"/><circle cx="297.3" cy="74.8" r="1.35"/><circle cx="333.8" cy="72.7" r="1.35"/><circle cx="309.9" cy="76.5" r="1.35"/><circle cx="310.5" cy="74.9" r="1.35"/><circle cx="324.0" cy="76.9" r="1.35"/><circle cx="296.9" cy="75.5" r="1.35"/><circle cx="306.9" cy="75.7" r="1.35"/><circle cx="315.2" cy="73.6" r="1.35"/><circle cx="325.1" cy="78.0" r="1.35"/><circle cx="316.2" cy="73.3" r="1.35"/><circle cx="306.2" cy="76.1" r="1.35"/><circle cx="325.7" cy="74.3" r="1.35"/><circle cx="349.3" cy="76.7" r="1.35"/><circle cx="345.5" cy="76.9" r="1.35"/><circle cx="340.4" cy="74.6" r="1.35"/><circle cx="346.7" cy="76.0" r="1.35"/><circle cx="288.3" cy="96.5" r="1.35"/><circle cx="281.3" cy="99.4" r="1.35"/><circle cx="284.7" cy="94.7" r="1.35"/><circle cx="282.1" cy="94.7" r="1.35"/><circle cx="288.7" cy="97.6" r="1.35"/><circle cx="280.7" cy="95.5" r="1.35"/>
</g>
<polygon points="249.3,103.2 254.5,101.4 259.7,99.5 264.9,97.6 270.1,95.7 275.3,93.8 280.5,92.0 285.7,90.1 290.9,88.2 296.1,86.3 301.3,84.4 306.5,82.2 311.7,79.9 316.9,77.6 322.1,75.3 327.3,73.1 332.5,70.8 337.7,68.5 342.9,66.2 348.1,64.0 353.3,61.7 353.3,67.6 348.1,69.5 342.9,71.3 337.7,73.2 332.5,75.1 327.3,77.0 322.1,78.9 316.9,80.7 311.7,82.6 306.5,84.5 301.3,86.4 296.1,88.7 290.9,90.9 285.7,93.2 280.5,95.5 275.3,97.8 270.1,100.0 264.9,102.3 259.7,104.6 254.5,106.9 249.3,109.1" fill="#e9d9ab" fill-opacity="0.17"/>
<g fill="#f2b705" fill-opacity="0.85">
<circle cx="286.0" cy="89.5" r="1.35"/><circle cx="302.7" cy="89.4" r="1.35"/><circle cx="277.8" cy="89.5" r="1.35"/><circle cx="289.0" cy="88.6" r="1.35"/><circle cx="286.1" cy="90.5" r="1.35"/><circle cx="282.4" cy="90.7" r="1.35"/><circle cx="314.4" cy="89.3" r="1.35"/><circle cx="308.7" cy="89.8" r="1.35"/><circle cx="313.1" cy="89.4" r="1.35"/><circle cx="308.9" cy="90.1" r="1.35"/><circle cx="297.7" cy="89.3" r="1.35"/><circle cx="315.7" cy="89.5" r="1.35"/><circle cx="299.0" cy="89.5" r="1.35"/><circle cx="270.0" cy="89.0" r="1.35"/><circle cx="275.1" cy="89.3" r="1.35"/><circle cx="270.6" cy="90.5" r="1.35"/><circle cx="313.0" cy="89.3" r="1.35"/><circle cx="312.3" cy="90.1" r="1.35"/><circle cx="296.3" cy="89.2" r="1.35"/><circle cx="312.4" cy="91.0" r="1.35"/><circle cx="306.4" cy="89.1" r="1.35"/><circle cx="301.1" cy="90.1" r="1.35"/><circle cx="291.9" cy="89.6" r="1.35"/><circle cx="311.8" cy="90.6" r="1.35"/><circle cx="293.3" cy="89.6" r="1.35"/><circle cx="269.8" cy="88.7" r="1.35"/><circle cx="289.8" cy="88.4" r="1.35"/><circle cx="270.1" cy="89.1" r="1.35"/><circle cx="289.7" cy="90.8" r="1.35"/><circle cx="310.7" cy="89.5" r="1.35"/><circle cx="262.3" cy="88.9" r="1.35"/><circle cx="293.7" cy="90.5" r="1.35"/><circle cx="299.5" cy="89.0" r="1.35"/><circle cx="285.6" cy="90.4" r="1.35"/><circle cx="316.2" cy="88.2" r="1.35"/><circle cx="297.9" cy="88.8" r="1.35"/><circle cx="263.5" cy="90.7" r="1.35"/><circle cx="314.5" cy="90.5" r="1.35"/><circle cx="280.6" cy="88.3" r="1.35"/><circle cx="289.3" cy="89.6" r="1.35"/><circle cx="312.6" cy="87.9" r="1.35"/><circle cx="297.2" cy="89.1" r="1.35"/><circle cx="281.1" cy="88.9" r="1.35"/><circle cx="288.7" cy="90.3" r="1.35"/><circle cx="291.6" cy="89.4" r="1.35"/><circle cx="286.5" cy="90.2" r="1.35"/><circle cx="285.8" cy="91.4" r="1.35"/><circle cx="278.5" cy="90.2" r="1.35"/><circle cx="308.7" cy="90.5" r="1.35"/><circle cx="277.3" cy="88.8" r="1.35"/><circle cx="290.5" cy="88.0" r="1.35"/><circle cx="306.7" cy="89.7" r="1.35"/><circle cx="280.6" cy="89.9" r="1.35"/><circle cx="295.0" cy="88.7" r="1.35"/><circle cx="297.8" cy="89.4" r="1.35"/><circle cx="302.7" cy="89.8" r="1.35"/><circle cx="311.9" cy="89.8" r="1.35"/><circle cx="278.9" cy="89.6" r="1.35"/><circle cx="262.3" cy="88.6" r="1.35"/><circle cx="296.3" cy="87.3" r="1.35"/><circle cx="299.1" cy="88.9" r="1.35"/><circle cx="296.5" cy="91.7" r="1.35"/><circle cx="296.8" cy="90.6" r="1.35"/><circle cx="295.6" cy="90.7" r="1.35"/><circle cx="300.4" cy="89.1" r="1.35"/><circle cx="287.8" cy="88.0" r="1.35"/><circle cx="305.0" cy="89.0" r="1.35"/><circle cx="264.0" cy="89.1" r="1.35"/><circle cx="305.7" cy="88.2" r="1.35"/><circle cx="282.8" cy="90.3" r="1.35"/><circle cx="308.4" cy="89.2" r="1.35"/><circle cx="276.5" cy="90.8" r="1.35"/><circle cx="279.0" cy="90.3" r="1.35"/><circle cx="286.3" cy="89.1" r="1.35"/><circle cx="298.2" cy="89.2" r="1.35"/><circle cx="294.0" cy="89.6" r="1.35"/><circle cx="264.2" cy="88.1" r="1.35"/><circle cx="294.4" cy="88.2" r="1.35"/><circle cx="313.8" cy="89.7" r="1.35"/><circle cx="283.8" cy="89.4" r="1.35"/><circle cx="295.4" cy="86.8" r="1.35"/><circle cx="288.8" cy="90.6" r="1.35"/><circle cx="285.2" cy="88.3" r="1.35"/><circle cx="273.9" cy="88.6" r="1.35"/><circle cx="270.5" cy="89.4" r="1.35"/><circle cx="300.5" cy="89.5" r="1.35"/><circle cx="268.8" cy="89.1" r="1.35"/><circle cx="311.0" cy="89.6" r="1.35"/><circle cx="269.2" cy="87.8" r="1.35"/><circle cx="275.6" cy="89.3" r="1.35"/><circle cx="303.4" cy="89.4" r="1.35"/><circle cx="305.6" cy="89.2" r="1.35"/><circle cx="302.2" cy="88.5" r="1.35"/><circle cx="266.7" cy="90.8" r="1.35"/><circle cx="297.4" cy="89.8" r="1.35"/><circle cx="314.6" cy="90.6" r="1.35"/><circle cx="276.3" cy="87.9" r="1.35"/><circle cx="262.6" cy="89.9" r="1.35"/><circle cx="262.8" cy="90.6" r="1.35"/><circle cx="266.4" cy="91.1" r="1.35"/><circle cx="279.5" cy="89.6" r="1.35"/><circle cx="310.5" cy="90.1" r="1.35"/><circle cx="289.4" cy="88.6" r="1.35"/><circle cx="294.4" cy="89.1" r="1.35"/><circle cx="286.7" cy="89.8" r="1.35"/><circle cx="307.0" cy="90.0" r="1.35"/><circle cx="282.4" cy="90.4" r="1.35"/><circle cx="285.5" cy="90.7" r="1.35"/><circle cx="283.7" cy="88.9" r="1.35"/><circle cx="306.2" cy="92.0" r="1.35"/><circle cx="293.9" cy="89.6" r="1.35"/><circle cx="316.9" cy="89.1" r="1.35"/><circle cx="301.6" cy="89.1" r="1.35"/><circle cx="296.1" cy="90.3" r="1.35"/><circle cx="317.1" cy="88.8" r="1.35"/><circle cx="279.4" cy="90.7" r="1.35"/><circle cx="286.1" cy="88.7" r="1.35"/><circle cx="300.6" cy="90.2" r="1.35"/><circle cx="295.9" cy="88.0" r="1.35"/><circle cx="277.9" cy="90.7" r="1.35"/><circle cx="262.0" cy="89.6" r="1.35"/><circle cx="295.1" cy="88.4" r="1.35"/><circle cx="308.0" cy="89.3" r="1.35"/><circle cx="309.0" cy="89.7" r="1.35"/><circle cx="307.8" cy="88.6" r="1.35"/><circle cx="277.4" cy="90.5" r="1.35"/><circle cx="310.0" cy="88.9" r="1.35"/><circle cx="313.5" cy="91.0" r="1.35"/><circle cx="281.5" cy="88.4" r="1.35"/><circle cx="307.0" cy="88.8" r="1.35"/><circle cx="273.3" cy="89.5" r="1.35"/><circle cx="275.1" cy="91.9" r="1.35"/><circle cx="296.2" cy="90.0" r="1.35"/><circle cx="273.6" cy="90.6" r="1.35"/><circle cx="276.3" cy="89.5" r="1.35"/><circle cx="287.9" cy="91.4" r="1.35"/><circle cx="266.9" cy="88.9" r="1.35"/><circle cx="275.1" cy="91.2" r="1.35"/><circle cx="294.7" cy="87.8" r="1.35"/><circle cx="291.4" cy="90.8" r="1.35"/><circle cx="323.3" cy="91.5" r="1.35"/><circle cx="320.4" cy="91.3" r="1.35"/><circle cx="320.3" cy="91.2" r="1.35"/><circle cx="324.2" cy="92.0" r="1.35"/><circle cx="322.5" cy="91.6" r="1.35"/><circle cx="318.9" cy="90.9" r="1.35"/><circle cx="328.6" cy="91.2" r="1.35"/><circle cx="324.9" cy="90.4" r="1.35"/><circle cx="326.5" cy="89.8" r="1.35"/><circle cx="321.9" cy="89.3" r="1.35"/><circle cx="323.7" cy="90.5" r="1.35"/><circle cx="328.6" cy="90.8" r="1.35"/><circle cx="327.3" cy="92.5" r="1.35"/><circle cx="321.1" cy="90.7" r="1.35"/><circle cx="326.4" cy="93.6" r="1.35"/><circle cx="324.8" cy="70.0" r="1.35"/><circle cx="325.4" cy="70.1" r="1.35"/><circle cx="315.8" cy="70.4" r="1.35"/><circle cx="317.8" cy="70.3" r="1.35"/><circle cx="315.9" cy="70.2" r="1.35"/><circle cx="322.2" cy="70.1" r="1.35"/><circle cx="327.0" cy="70.6" r="1.35"/><circle cx="326.5" cy="69.9" r="1.35"/><circle cx="320.2" cy="70.1" r="1.35"/><circle cx="316.8" cy="70.1" r="1.35"/><circle cx="322.3" cy="70.4" r="1.35"/><circle cx="323.2" cy="69.9" r="1.35"/><circle cx="340.8" cy="70.8" r="1.35"/><circle cx="342.0" cy="69.6" r="1.35"/><circle cx="353.1" cy="69.1" r="1.35"/><circle cx="337.3" cy="70.0" r="1.35"/><circle cx="340.0" cy="70.4" r="1.35"/><circle cx="351.3" cy="69.5" r="1.35"/><circle cx="333.7" cy="71.2" r="1.35"/><circle cx="348.9" cy="70.8" r="1.35"/><circle cx="353.0" cy="71.4" r="1.35"/><circle cx="333.9" cy="69.8" r="1.35"/><circle cx="352.1" cy="69.6" r="1.35"/><circle cx="346.7" cy="70.8" r="1.35"/><circle cx="280.4" cy="99.1" r="1.35"/><circle cx="290.7" cy="99.1" r="1.35"/><circle cx="294.6" cy="97.4" r="1.35"/><circle cx="305.1" cy="98.3" r="1.35"/><circle cx="306.6" cy="101.0" r="1.35"/><circle cx="314.3" cy="98.3" r="1.35"/><circle cx="318.4" cy="101.0" r="1.35"/><circle cx="325.6" cy="99.3" r="1.35"/>
</g>
<polygon points="261.9,89.5 266.5,89.1 271.0,88.7 275.5,88.2 280.0,87.8 284.5,87.4 289.0,86.9 293.6,86.5 298.1,86.1 302.6,85.7 307.1,85.2 311.6,84.4 316.1,83.6 320.7,82.8 325.2,82.0 329.7,81.2 334.2,80.3 338.7,79.5 343.2,78.7 347.8,77.9 352.3,77.1 352.3,82.3 347.8,82.7 343.2,83.2 338.7,83.6 334.2,84.0 329.7,84.4 325.2,84.9 320.7,85.3 316.1,85.7 311.6,86.1 307.1,86.6 302.6,87.4 298.1,88.2 293.6,89.0 289.0,89.8 284.5,90.6 280.0,91.5 275.5,92.3 271.0,93.1 266.5,93.9 261.9,94.7" fill="#f2b705" fill-opacity="0.17"/>
<g fill="#d9510f" fill-opacity="0.85">
<circle cx="302.7" cy="92.7" r="1.35"/><circle cx="265.8" cy="93.8" r="1.35"/><circle cx="266.9" cy="93.1" r="1.35"/><circle cx="287.1" cy="93.3" r="1.35"/><circle cx="268.0" cy="93.1" r="1.35"/><circle cx="298.1" cy="92.5" r="1.35"/><circle cx="270.9" cy="93.5" r="1.35"/><circle cx="261.9" cy="93.1" r="1.35"/><circle cx="312.6" cy="93.8" r="1.35"/><circle cx="308.8" cy="93.3" r="1.35"/><circle cx="285.1" cy="93.8" r="1.35"/><circle cx="265.4" cy="92.4" r="1.35"/><circle cx="295.4" cy="94.1" r="1.35"/><circle cx="285.4" cy="94.2" r="1.35"/><circle cx="286.8" cy="92.5" r="1.35"/><circle cx="295.4" cy="93.3" r="1.35"/><circle cx="263.1" cy="93.2" r="1.35"/><circle cx="300.2" cy="93.9" r="1.35"/><circle cx="309.0" cy="93.7" r="1.35"/><circle cx="274.9" cy="93.9" r="1.35"/><circle cx="275.2" cy="93.4" r="1.35"/><circle cx="307.3" cy="93.8" r="1.35"/><circle cx="287.6" cy="93.2" r="1.35"/><circle cx="277.8" cy="93.3" r="1.35"/><circle cx="315.1" cy="93.7" r="1.35"/><circle cx="263.1" cy="92.8" r="1.35"/><circle cx="271.8" cy="94.2" r="1.35"/><circle cx="286.8" cy="93.7" r="1.35"/><circle cx="271.3" cy="93.1" r="1.35"/><circle cx="280.4" cy="91.2" r="1.35"/><circle cx="312.1" cy="93.7" r="1.35"/><circle cx="265.4" cy="93.9" r="1.35"/><circle cx="263.1" cy="92.2" r="1.35"/><circle cx="300.9" cy="94.1" r="1.35"/><circle cx="260.8" cy="91.8" r="1.35"/><circle cx="305.4" cy="93.8" r="1.35"/><circle cx="260.0" cy="93.3" r="1.35"/><circle cx="306.9" cy="94.0" r="1.35"/><circle cx="284.5" cy="93.6" r="1.35"/><circle cx="311.4" cy="93.4" r="1.35"/><circle cx="267.7" cy="92.7" r="1.35"/><circle cx="270.1" cy="93.4" r="1.35"/><circle cx="271.0" cy="94.6" r="1.35"/><circle cx="264.4" cy="92.8" r="1.35"/><circle cx="287.9" cy="93.1" r="1.35"/><circle cx="275.3" cy="93.3" r="1.35"/><circle cx="299.8" cy="92.7" r="1.35"/><circle cx="305.7" cy="93.9" r="1.35"/><circle cx="263.6" cy="93.8" r="1.35"/><circle cx="301.3" cy="94.4" r="1.35"/><circle cx="263.0" cy="93.0" r="1.35"/><circle cx="305.7" cy="94.2" r="1.35"/><circle cx="308.7" cy="92.5" r="1.35"/><circle cx="287.7" cy="92.1" r="1.35"/><circle cx="286.8" cy="93.4" r="1.35"/><circle cx="309.1" cy="93.6" r="1.35"/><circle cx="306.8" cy="93.1" r="1.35"/><circle cx="280.6" cy="93.2" r="1.35"/><circle cx="293.5" cy="93.0" r="1.35"/><circle cx="260.1" cy="94.3" r="1.35"/><circle cx="289.0" cy="93.6" r="1.35"/><circle cx="266.7" cy="93.8" r="1.35"/><circle cx="308.8" cy="94.7" r="1.35"/><circle cx="278.0" cy="93.7" r="1.35"/><circle cx="302.3" cy="94.2" r="1.35"/><circle cx="263.3" cy="92.4" r="1.35"/><circle cx="287.8" cy="94.7" r="1.35"/><circle cx="288.9" cy="94.4" r="1.35"/><circle cx="261.0" cy="93.7" r="1.35"/><circle cx="314.5" cy="93.5" r="1.35"/><circle cx="265.7" cy="93.2" r="1.35"/><circle cx="274.0" cy="93.5" r="1.35"/><circle cx="265.3" cy="93.7" r="1.35"/><circle cx="299.3" cy="93.5" r="1.35"/><circle cx="293.7" cy="93.4" r="1.35"/><circle cx="292.4" cy="94.6" r="1.35"/><circle cx="265.7" cy="93.7" r="1.35"/><circle cx="309.0" cy="93.6" r="1.35"/><circle cx="266.8" cy="93.8" r="1.35"/><circle cx="287.8" cy="94.1" r="1.35"/><circle cx="266.8" cy="93.6" r="1.35"/><circle cx="282.8" cy="93.0" r="1.35"/><circle cx="308.5" cy="92.9" r="1.35"/><circle cx="268.2" cy="94.5" r="1.35"/><circle cx="269.2" cy="94.0" r="1.35"/><circle cx="306.5" cy="93.0" r="1.35"/><circle cx="283.6" cy="93.8" r="1.35"/><circle cx="307.3" cy="94.2" r="1.35"/><circle cx="313.0" cy="93.7" r="1.35"/><circle cx="303.7" cy="93.8" r="1.35"/><circle cx="278.8" cy="93.1" r="1.35"/><circle cx="284.5" cy="92.4" r="1.35"/><circle cx="311.4" cy="93.7" r="1.35"/><circle cx="305.9" cy="93.4" r="1.35"/><circle cx="289.1" cy="93.7" r="1.35"/><circle cx="314.0" cy="93.1" r="1.35"/><circle cx="283.7" cy="93.8" r="1.35"/><circle cx="295.6" cy="94.1" r="1.35"/><circle cx="263.8" cy="93.0" r="1.35"/><circle cx="284.3" cy="93.7" r="1.35"/><circle cx="267.8" cy="93.6" r="1.35"/><circle cx="314.6" cy="93.3" r="1.35"/><circle cx="295.6" cy="95.1" r="1.35"/><circle cx="305.6" cy="92.5" r="1.35"/><circle cx="261.8" cy="94.5" r="1.35"/><circle cx="296.1" cy="93.7" r="1.35"/><circle cx="275.3" cy="92.6" r="1.35"/><circle cx="290.5" cy="92.7" r="1.35"/><circle cx="274.0" cy="94.0" r="1.35"/><circle cx="289.3" cy="95.0" r="1.35"/><circle cx="276.1" cy="92.9" r="1.35"/><circle cx="277.1" cy="93.8" r="1.35"/><circle cx="293.4" cy="93.8" r="1.35"/><circle cx="313.9" cy="94.1" r="1.35"/><circle cx="286.2" cy="93.6" r="1.35"/><circle cx="290.0" cy="93.4" r="1.35"/><circle cx="267.3" cy="93.3" r="1.35"/><circle cx="276.5" cy="94.0" r="1.35"/><circle cx="273.6" cy="93.3" r="1.35"/><circle cx="264.8" cy="94.8" r="1.35"/><circle cx="294.3" cy="93.9" r="1.35"/><circle cx="292.1" cy="93.8" r="1.35"/><circle cx="300.0" cy="93.9" r="1.35"/><circle cx="285.9" cy="94.4" r="1.35"/><circle cx="286.4" cy="93.8" r="1.35"/><circle cx="277.4" cy="93.5" r="1.35"/><circle cx="288.8" cy="93.1" r="1.35"/><circle cx="281.5" cy="93.6" r="1.35"/><circle cx="279.8" cy="93.6" r="1.35"/><circle cx="308.5" cy="93.5" r="1.35"/><circle cx="287.6" cy="92.7" r="1.35"/><circle cx="276.0" cy="93.0" r="1.35"/><circle cx="303.5" cy="93.6" r="1.35"/><circle cx="268.8" cy="92.3" r="1.35"/><circle cx="284.7" cy="93.0" r="1.35"/><circle cx="263.4" cy="94.1" r="1.35"/><circle cx="301.4" cy="93.1" r="1.35"/><circle cx="266.0" cy="93.3" r="1.35"/><circle cx="301.6" cy="91.9" r="1.35"/><circle cx="268.6" cy="93.9" r="1.35"/><circle cx="254.5" cy="93.5" r="1.35"/><circle cx="253.7" cy="93.5" r="1.35"/><circle cx="252.4" cy="94.1" r="1.35"/><circle cx="255.4" cy="93.8" r="1.35"/><circle cx="252.5" cy="102.4" r="1.35"/><circle cx="272.7" cy="102.9" r="1.35"/><circle cx="278.8" cy="105.3" r="1.35"/><circle cx="282.1" cy="102.4" r="1.35"/><circle cx="285.9" cy="102.4" r="1.35"/><circle cx="297.4" cy="97.7" r="1.35"/><circle cx="300.4" cy="102.4" r="1.35"/><circle cx="302.0" cy="103.2" r="1.35"/><circle cx="303.0" cy="101.9" r="1.35"/><circle cx="298.9" cy="101.3" r="1.35"/><circle cx="314.3" cy="98.0" r="1.35"/>
</g>
<polygon points="245.0,93.0 248.5,93.0 251.9,93.1 255.4,93.1 258.9,93.2 262.3,93.2 265.8,93.3 269.2,93.3 272.7,93.4 276.2,93.4 279.6,93.5 283.1,93.4 286.6,93.4 290.0,93.4 293.5,93.3 297.0,93.3 300.4,93.3 303.9,93.3 307.4,93.2 310.8,93.2 314.3,93.2 314.3,94.7 310.8,94.7 307.4,94.6 303.9,94.6 300.4,94.5 297.0,94.5 293.5,94.4 290.0,94.4 286.6,94.3 283.1,94.3 279.6,94.2 276.2,94.3 272.7,94.3 269.2,94.3 265.8,94.4 262.3,94.4 258.9,94.4 255.4,94.5 251.9,94.5 248.5,94.5 245.0,94.5" fill="#d9510f" fill-opacity="0.17"/>
<line x1="249.3" y1="106.2" x2="353.3" y2="64.6" stroke="#e9d9ab" stroke-width="0.9"/>
<line x1="261.9" y1="92.1" x2="352.3" y2="79.7" stroke="#f2b705" stroke-width="0.9"/>
<line x1="245.0" y1="93.8" x2="314.3" y2="94.0" stroke="#d9510f" stroke-width="0.9"/>
</g>
<rect x="210.5" y="33.5" width="154.0" height="98" fill="none" stroke="#a3a3a3" stroke-width="1"/>
<line x1="210.6" y1="131.4" x2="210.6" y2="133.0" stroke="#a3a3a3" stroke-width="0.6"/>
<text x="210.60" y="138.90" font-size="5.9" text-anchor="middle">0</text>
<line x1="210.6" y1="131.4" x2="209.0" y2="131.4" stroke="#a3a3a3" stroke-width="0.6"/>
<text x="208.20" y="133.45" font-size="5.9" text-anchor="end">0</text>
<line x1="231.1" y1="131.4" x2="231.1" y2="133.0" stroke="#a3a3a3" stroke-width="0.6"/>
<text x="231.13" y="138.90" font-size="5.9" text-anchor="middle">2</text>
<line x1="210.6" y1="118.3" x2="209.0" y2="118.3" stroke="#a3a3a3" stroke-width="0.6"/>
<text x="208.20" y="120.36" font-size="5.9" text-anchor="end">2</text>
<line x1="251.7" y1="131.4" x2="251.7" y2="133.0" stroke="#a3a3a3" stroke-width="0.6"/>
<text x="251.67" y="138.90" font-size="5.9" text-anchor="middle">4</text>
<line x1="210.6" y1="105.2" x2="209.0" y2="105.2" stroke="#a3a3a3" stroke-width="0.6"/>
<text x="208.20" y="107.26" font-size="5.9" text-anchor="end">4</text>
<line x1="272.2" y1="131.4" x2="272.2" y2="133.0" stroke="#a3a3a3" stroke-width="0.6"/>
<text x="272.20" y="138.90" font-size="5.9" text-anchor="middle">6</text>
<line x1="210.6" y1="92.1" x2="209.0" y2="92.1" stroke="#a3a3a3" stroke-width="0.6"/>
<text x="208.20" y="94.17" font-size="5.9" text-anchor="end">6</text>
<line x1="292.7" y1="131.4" x2="292.7" y2="133.0" stroke="#a3a3a3" stroke-width="0.6"/>
<text x="292.73" y="138.90" font-size="5.9" text-anchor="middle">8</text>
<line x1="210.6" y1="79.0" x2="209.0" y2="79.0" stroke="#a3a3a3" stroke-width="0.6"/>
<text x="208.20" y="81.08" font-size="5.9" text-anchor="end">8</text>
<line x1="313.3" y1="131.4" x2="313.3" y2="133.0" stroke="#a3a3a3" stroke-width="0.6"/>
<text x="313.27" y="138.90" font-size="5.9" text-anchor="middle">10</text>
<line x1="210.6" y1="65.9" x2="209.0" y2="65.9" stroke="#a3a3a3" stroke-width="0.6"/>
<text x="208.20" y="67.98" font-size="5.9" text-anchor="end">10</text>
<line x1="333.8" y1="131.4" x2="333.8" y2="133.0" stroke="#a3a3a3" stroke-width="0.6"/>
<text x="333.80" y="138.90" font-size="5.9" text-anchor="middle">12</text>
<line x1="210.6" y1="52.8" x2="209.0" y2="52.8" stroke="#a3a3a3" stroke-width="0.6"/>
<text x="208.20" y="54.89" font-size="5.9" text-anchor="end">12</text>
<line x1="354.3" y1="131.4" x2="354.3" y2="133.0" stroke="#a3a3a3" stroke-width="0.6"/>
<text x="354.33" y="138.90" font-size="5.9" text-anchor="middle">14</text>
<line x1="210.6" y1="39.7" x2="209.0" y2="39.7" stroke="#a3a3a3" stroke-width="0.6"/>
<text x="208.20" y="41.80" font-size="5.9" text-anchor="end">14</text>
<text x="287.60" y="31.10" font-size="7.7" text-anchor="middle" textLength="41.5" lengthAdjust="spacingAndGlyphs">b) XGBoost</text>
<text x="287.60" y="146.60" font-size="7.5" text-anchor="middle" textLength="39.4" lengthAdjust="spacingAndGlyphs">Yield (t/ha)</text>
<text x="197.20" y="79.80" font-size="7.5" text-anchor="middle" textLength="72.5" lengthAdjust="spacingAndGlyphs" transform="rotate(-90 197.20 79.80)">Predicted yield (t/ha)</text>
<rect x="211.4" y="34.6" width="58.4" height="23.3" rx="1.2" fill="#ffffff" fill-opacity="0.8" stroke="#dddddd" stroke-width="0.6"/>
<rect x="213.8" y="38.0" width="7.8" height="2.8" fill="#e9d9ab"/>
<text x="225.00" y="41.00" font-size="6.2" text-anchor="start">2017, R2: 0.18</text>
<rect x="213.8" y="45.1" width="7.8" height="2.8" fill="#f2b705"/>
<text x="225.00" y="48.10" font-size="6.2" text-anchor="start">2018, R2: -0.59</text>
<rect x="213.8" y="52.2" width="7.8" height="2.8" fill="#d9510f"/>
<text x="225.00" y="55.20" font-size="6.2" text-anchor="start">2019, R2: -1.88</text>
<g clip-path="url(#clipT2)">
<g fill="#e9d9ab" fill-opacity="0.6">
<circle cx="434.2" cy="88.9" r="1.35"/><circle cx="439.9" cy="86.7" r="1.35"/><circle cx="427.8" cy="89.8" r="1.35"/><circle cx="441.5" cy="82.2" r="1.35"/><circle cx="436.2" cy="85.5" r="1.35"/><circle cx="434.6" cy="83.1" r="1.35"/><circle cx="433.1" cy="86.2" r="1.35"/><circle cx="439.9" cy="83.7" r="1.35"/><circle cx="432.4" cy="87.5" r="1.35"/><circle cx="433.8" cy="88.6" r="1.35"/><circle cx="457.4" cy="81.2" r="1.35"/><circle cx="463.0" cy="83.4" r="1.35"/><circle cx="449.7" cy="82.9" r="1.35"/><circle cx="469.4" cy="78.1" r="1.35"/><circle cx="443.3" cy="82.3" r="1.35"/><circle cx="455.4" cy="80.9" r="1.35"/><circle cx="458.6" cy="84.2" r="1.35"/><circle cx="446.9" cy="74.1" r="1.35"/><circle cx="465.2" cy="83.2" r="1.35"/><circle cx="470.8" cy="76.0" r="1.35"/><circle cx="435.7" cy="79.4" r="1.35"/><circle cx="463.5" cy="79.9" r="1.35"/><circle cx="452.3" cy="76.3" r="1.35"/><circle cx="457.0" cy="87.7" r="1.35"/><circle cx="453.5" cy="79.7" r="1.35"/><circle cx="440.5" cy="76.4" r="1.35"/><circle cx="453.0" cy="85.3" r="1.35"/><circle cx="451.4" cy="82.7" r="1.35"/><circle cx="459.3" cy="82.9" r="1.35"/><circle cx="447.8" cy="75.7" r="1.35"/><circle cx="448.2" cy="81.8" r="1.35"/><circle cx="452.4" cy="82.7" r="1.35"/><circle cx="460.5" cy="84.3" r="1.35"/><circle cx="448.1" cy="74.2" r="1.35"/><circle cx="435.7" cy="83.8" r="1.35"/><circle cx="454.1" cy="88.1" r="1.35"/><circle cx="435.7" cy="82.6" r="1.35"/><circle cx="463.6" cy="79.5" r="1.35"/><circle cx="447.4" cy="84.1" r="1.35"/><circle cx="473.7" cy="78.5" r="1.35"/><circle cx="483.3" cy="51.8" r="1.35"/><circle cx="508.1" cy="59.9" r="1.35"/><circle cx="476.5" cy="50.5" r="1.35"/><circle cx="492.9" cy="61.8" r="1.35"/><circle cx="497.1" cy="59.8" r="1.35"/><circle cx="506.1" cy="60.0" r="1.35"/><circle cx="494.0" cy="55.5" r="1.35"/><circle cx="507.4" cy="60.3" r="1.35"/><circle cx="488.4" cy="51.9" r="1.35"/><circle cx="493.6" cy="53.3" r="1.35"/><circle cx="497.0" cy="57.1" r="1.35"/><circle cx="485.7" cy="60.5" r="1.35"/><circle cx="493.4" cy="62.5" r="1.35"/><circle cx="512.8" cy="62.3" r="1.35"/><circle cx="486.3" cy="58.1" r="1.35"/><circle cx="505.6" cy="60.7" r="1.35"/><circle cx="491.5" cy="63.4" r="1.35"/><circle cx="484.1" cy="53.4" r="1.35"/><circle cx="494.0" cy="61.2" r="1.35"/><circle cx="497.0" cy="53.0" r="1.35"/><circle cx="508.6" cy="54.0" r="1.35"/><circle cx="497.1" cy="54.9" r="1.35"/><circle cx="505.2" cy="53.2" r="1.35"/><circle cx="481.5" cy="60.5" r="1.35"/><circle cx="490.8" cy="49.9" r="1.35"/><circle cx="495.6" cy="62.4" r="1.35"/><circle cx="508.8" cy="58.0" r="1.35"/><circle cx="499.2" cy="58.0" r="1.35"/><circle cx="498.9" cy="51.8" r="1.35"/><circle cx="486.5" cy="63.7" r="1.35"/><circle cx="503.3" cy="58.4" r="1.35"/><circle cx="496.5" cy="52.6" r="1.35"/><circle cx="485.6" cy="54.6" r="1.35"/><circle cx="491.4" cy="62.3" r="1.35"/><circle cx="488.9" cy="47.4" r="1.35"/><circle cx="500.7" cy="54.5" r="1.35"/><circle cx="487.1" cy="51.8" r="1.35"/><circle cx="483.0" cy="63.4" r="1.35"/><circle cx="507.4" cy="49.9" r="1.35"/><circle cx="491.2" cy="55.4" r="1.35"/><circle cx="491.8" cy="66.0" r="1.35"/><circle cx="504.6" cy="55.9" r="1.35"/><circle cx="502.9" cy="52.5" r="1.35"/><circle cx="485.9" cy="59.2" r="1.35"/><circle cx="486.8" cy="57.7" r="1.35"/><circle cx="502.8" cy="51.3" r="1.35"/><circle cx="517.8" cy="56.0" r="1.35"/><circle cx="507.0" cy="51.1" r="1.35"/><circle cx="502.6" cy="61.4" r="1.35"/><circle cx="501.1" cy="54.8" r="1.35"/><circle cx="496.3" cy="56.0" r="1.35"/><circle cx="485.7" cy="60.2" r="1.35"/><circle cx="500.9" cy="58.3" r="1.35"/><circle cx="501.6" cy="49.3" r="1.35"/><circle cx="497.5" cy="59.9" r="1.35"/><circle cx="499.2" cy="58.4" r="1.35"/><circle cx="489.8" cy="60.9" r="1.35"/><circle cx="513.5" cy="50.8" r="1.35"/><circle cx="502.2" cy="52.0" r="1.35"/><circle cx="478.3" cy="59.0" r="1.35"/><circle cx="502.3" cy="58.1" r="1.35"/><circle cx="484.4" cy="56.9" r="1.35"/><circle cx="492.4" cy="52.8" r="1.35"/><circle cx="490.5" cy="58.6" r="1.35"/><circle cx="505.4" cy="50.7" r="1.35"/><circle cx="506.0" cy="57.3" r="1.35"/><circle cx="516.2" cy="59.1" r="1.35"/><circle cx="489.1" cy="59.5" r="1.35"/><circle cx="508.3" cy="53.4" r="1.35"/><circle cx="514.5" cy="50.1" r="1.35"/><circle cx="502.8" cy="61.4" r="1.35"/><circle cx="492.0" cy="58.4" r="1.35"/><circle cx="484.2" cy="64.6" r="1.35"/><circle cx="483.1" cy="62.9" r="1.35"/><circle cx="503.7" cy="53.9" r="1.35"/><circle cx="497.5" cy="55.2" r="1.35"/><circle cx="486.9" cy="61.5" r="1.35"/><circle cx="490.0" cy="64.4" r="1.35"/><circle cx="490.5" cy="64.1" r="1.35"/><circle cx="494.2" cy="54.3" r="1.35"/><circle cx="497.8" cy="57.6" r="1.35"/><circle cx="499.5" cy="58.7" r="1.35"/><circle cx="486.0" cy="70.3" r="1.35"/><circle cx="507.0" cy="54.5" r="1.35"/><circle cx="473.2" cy="60.8" r="1.35"/><circle cx="490.0" cy="59.8" r="1.35"/><circle cx="496.7" cy="61.8" r="1.35"/><circle cx="480.5" cy="64.8" r="1.35"/><circle cx="502.7" cy="61.8" r="1.35"/><circle cx="480.8" cy="61.2" r="1.35"/><circle cx="514.1" cy="59.6" r="1.35"/><circle cx="505.8" cy="55.4" r="1.35"/><circle cx="498.8" cy="50.1" r="1.35"/><circle cx="485.5" cy="60.8" r="1.35"/><circle cx="491.3" cy="56.1" r="1.35"/><circle cx="495.7" cy="56.9" r="1.35"/><circle cx="502.5" cy="58.3" r="1.35"/><circle cx="496.2" cy="61.3" r="1.35"/><circle cx="507.8" cy="51.6" r="1.35"/><circle cx="512.0" cy="63.3" r="1.35"/><circle cx="487.2" cy="60.2" r="1.35"/><circle cx="505.2" cy="58.7" r="1.35"/><circle cx="485.5" cy="49.8" r="1.35"/><circle cx="494.3" cy="58.0" r="1.35"/><circle cx="485.9" cy="49.8" r="1.35"/><circle cx="499.6" cy="59.1" r="1.35"/><circle cx="492.2" cy="59.0" r="1.35"/><circle cx="499.2" cy="56.8" r="1.35"/><circle cx="487.4" cy="52.1" r="1.35"/><circle cx="485.5" cy="53.1" r="1.35"/><circle cx="502.3" cy="64.4" r="1.35"/><circle cx="504.8" cy="54.6" r="1.35"/><circle cx="486.9" cy="48.8" r="1.35"/><circle cx="507.5" cy="67.6" r="1.35"/><circle cx="505.1" cy="59.9" r="1.35"/><circle cx="526.3" cy="52.0" r="1.35"/><circle cx="523.0" cy="48.0" r="1.35"/><circle cx="524.2" cy="46.6" r="1.35"/><circle cx="519.7" cy="54.4" r="1.35"/><circle cx="514.8" cy="47.5" r="1.35"/><circle cx="477.9" cy="54.8" r="1.35"/><circle cx="478.5" cy="60.4" r="1.35"/><circle cx="471.8" cy="75.9" r="1.35"/><circle cx="476.4" cy="66.6" r="1.35"/><circle cx="475.2" cy="62.7" r="1.35"/><circle cx="472.9" cy="60.8" r="1.35"/>
</g>
<polygon points="425.4,82.4 430.5,80.8 435.7,79.2 440.8,77.6 445.9,76.0 451.1,74.4 456.2,72.8 461.3,71.2 466.5,69.5 471.6,67.9 476.7,66.3 481.9,64.4 487.0,62.5 492.1,60.5 497.3,58.6 502.4,56.6 507.5,54.7 512.7,52.8 517.8,50.8 522.9,48.9 528.1,46.9 528.1,52.2 522.9,53.8 517.8,55.4 512.7,57.0 507.5,58.6 502.4,60.2 497.3,61.8 492.1,63.5 487.0,65.1 481.9,66.7 476.7,68.3 471.6,70.2 466.5,72.2 461.3,74.1 456.2,76.0 451.1,78.0 445.9,79.9 440.8,81.9 435.7,83.8 430.5,85.7 425.4,87.7" fill="#e9d9ab" fill-opacity="0.17"/>
<g fill="#f2b705" fill-opacity="0.85">
<circle cx="450.7" cy="72.5" r="1.35"/><circle cx="455.6" cy="71.2" r="1.35"/><circle cx="453.0" cy="80.4" r="1.35"/><circle cx="459.0" cy="69.6" r="1.35"/><circle cx="443.9" cy="75.5" r="1.35"/><circle cx="469.7" cy="73.4" r="1.35"/><circle cx="449.8" cy="65.1" r="1.35"/><circle cx="469.1" cy="67.2" r="1.35"/><circle cx="446.0" cy="67.4" r="1.35"/><circle cx="436.7" cy="78.2" r="1.35"/><circle cx="467.9" cy="66.0" r="1.35"/><circle cx="446.2" cy="77.6" r="1.35"/><circle cx="460.8" cy="81.4" r="1.35"/><circle cx="466.6" cy="69.6" r="1.35"/><circle cx="452.5" cy="71.5" r="1.35"/><circle cx="468.3" cy="70.5" r="1.35"/><circle cx="465.0" cy="65.5" r="1.35"/><circle cx="452.1" cy="73.2" r="1.35"/><circle cx="451.5" cy="69.4" r="1.35"/><circle cx="453.0" cy="71.7" r="1.35"/><circle cx="460.0" cy="72.6" r="1.35"/><circle cx="480.5" cy="70.7" r="1.35"/><circle cx="476.6" cy="67.1" r="1.35"/><circle cx="475.3" cy="71.7" r="1.35"/><circle cx="470.3" cy="68.3" r="1.35"/><circle cx="450.3" cy="73.0" r="1.35"/><circle cx="456.6" cy="73.5" r="1.35"/><circle cx="475.1" cy="74.2" r="1.35"/><circle cx="436.6" cy="83.6" r="1.35"/><circle cx="452.4" cy="76.7" r="1.35"/><circle cx="458.5" cy="70.6" r="1.35"/><circle cx="481.0" cy="68.9" r="1.35"/><circle cx="464.2" cy="75.6" r="1.35"/><circle cx="465.7" cy="66.2" r="1.35"/><circle cx="475.5" cy="79.6" r="1.35"/><circle cx="469.7" cy="64.7" r="1.35"/><circle cx="468.9" cy="78.4" r="1.35"/><circle cx="454.3" cy="71.0" r="1.35"/><circle cx="463.6" cy="76.0" r="1.35"/><circle cx="446.8" cy="70.3" r="1.35"/><circle cx="441.1" cy="69.0" r="1.35"/><circle cx="458.5" cy="71.8" r="1.35"/><circle cx="441.1" cy="78.0" r="1.35"/><circle cx="467.1" cy="78.5" r="1.35"/><circle cx="484.9" cy="75.9" r="1.35"/><circle cx="442.6" cy="74.9" r="1.35"/><circle cx="464.5" cy="69.1" r="1.35"/><circle cx="453.5" cy="74.7" r="1.35"/><circle cx="455.2" cy="76.1" r="1.35"/><circle cx="435.7" cy="71.8" r="1.35"/><circle cx="461.5" cy="72.0" r="1.35"/><circle cx="450.2" cy="73.1" r="1.35"/><circle cx="458.1" cy="73.5" r="1.35"/><circle cx="472.4" cy="78.9" r="1.35"/><circle cx="461.5" cy="77.4" r="1.35"/><circle cx="454.2" cy="67.1" r="1.35"/><circle cx="444.4" cy="75.3" r="1.35"/><circle cx="450.7" cy="69.9" r="1.35"/><circle cx="445.7" cy="82.1" r="1.35"/><circle cx="464.9" cy="73.9" r="1.35"/><circle cx="454.2" cy="68.9" r="1.35"/><circle cx="446.9" cy="76.2" r="1.35"/><circle cx="460.2" cy="71.1" r="1.35"/><circle cx="451.6" cy="69.4" r="1.35"/><circle cx="487.0" cy="71.3" r="1.35"/><circle cx="482.2" cy="79.4" r="1.35"/><circle cx="476.3" cy="72.3" r="1.35"/><circle cx="460.0" cy="74.4" r="1.35"/><circle cx="450.1" cy="79.8" r="1.35"/><circle cx="453.2" cy="68.1" r="1.35"/><circle cx="472.9" cy="72.8" r="1.35"/><circle cx="451.5" cy="77.1" r="1.35"/><circle cx="442.9" cy="67.2" r="1.35"/><circle cx="466.8" cy="71.5" r="1.35"/><circle cx="452.0" cy="78.4" r="1.35"/><circle cx="475.1" cy="67.5" r="1.35"/><circle cx="446.1" cy="70.3" r="1.35"/><circle cx="444.1" cy="72.1" r="1.35"/><circle cx="446.0" cy="76.5" r="1.35"/><circle cx="464.6" cy="70.4" r="1.35"/><circle cx="471.2" cy="75.2" r="1.35"/><circle cx="478.5" cy="64.6" r="1.35"/><circle cx="458.1" cy="71.1" r="1.35"/><circle cx="448.3" cy="75.1" r="1.35"/><circle cx="441.3" cy="74.9" r="1.35"/><circle cx="460.8" cy="66.9" r="1.35"/><circle cx="470.4" cy="68.0" r="1.35"/><circle cx="453.6" cy="74.7" r="1.35"/><circle cx="453.9" cy="72.7" r="1.35"/><circle cx="435.7" cy="72.6" r="1.35"/><circle cx="438.2" cy="78.0" r="1.35"/><circle cx="458.6" cy="75.4" r="1.35"/><circle cx="479.6" cy="70.8" r="1.35"/><circle cx="478.4" cy="65.4" r="1.35"/><circle cx="451.9" cy="72.2" r="1.35"/><circle cx="474.9" cy="72.5" r="1.35"/><circle cx="459.4" cy="75.4" r="1.35"/><circle cx="459.0" cy="74.6" r="1.35"/><circle cx="459.3" cy="68.6" r="1.35"/><circle cx="476.1" cy="70.3" r="1.35"/><circle cx="460.9" cy="69.0" r="1.35"/><circle cx="454.5" cy="78.3" r="1.35"/><circle cx="472.5" cy="75.4" r="1.35"/><circle cx="470.2" cy="75.9" r="1.35"/><circle cx="481.7" cy="74.7" r="1.35"/><circle cx="469.1" cy="65.2" r="1.35"/><circle cx="446.0" cy="68.2" r="1.35"/><circle cx="447.7" cy="82.2" r="1.35"/><circle cx="467.5" cy="68.9" r="1.35"/><circle cx="455.7" cy="84.6" r="1.35"/><circle cx="517.3" cy="47.3" r="1.35"/><circle cx="488.5" cy="58.6" r="1.35"/><circle cx="509.3" cy="56.8" r="1.35"/><circle cx="526.7" cy="58.5" r="1.35"/><circle cx="515.1" cy="57.2" r="1.35"/><circle cx="504.6" cy="54.0" r="1.35"/><circle cx="522.7" cy="58.9" r="1.35"/><circle cx="484.9" cy="63.6" r="1.35"/><circle cx="489.0" cy="59.7" r="1.35"/><circle cx="509.5" cy="62.3" r="1.35"/><circle cx="497.3" cy="62.6" r="1.35"/><circle cx="490.6" cy="67.5" r="1.35"/><circle cx="524.4" cy="66.3" r="1.35"/><circle cx="521.3" cy="58.7" r="1.35"/><circle cx="527.8" cy="48.4" r="1.35"/><circle cx="490.9" cy="60.3" r="1.35"/><circle cx="494.2" cy="75.7" r="1.35"/><circle cx="487.5" cy="82.4" r="1.35"/><circle cx="489.6" cy="77.4" r="1.35"/><circle cx="492.7" cy="82.6" r="1.35"/>
</g>
<polygon points="437.7,73.8 442.3,73.4 446.8,73.0 451.3,72.6 455.8,72.2 460.3,71.8 464.8,71.4 469.4,71.0 473.9,70.6 478.4,70.3 482.9,69.9 487.4,68.9 491.9,67.9 496.5,66.9 501.0,65.9 505.5,65.0 510.0,64.0 514.5,63.0 519.0,62.0 523.6,61.0 528.1,60.0 528.1,67.9 523.6,68.3 519.0,68.7 514.5,69.1 510.0,69.5 505.5,69.9 501.0,70.3 496.5,70.6 491.9,71.0 487.4,71.4 482.9,71.8 478.4,72.8 473.9,73.8 469.4,74.8 464.8,75.8 460.3,76.7 455.8,77.7 451.3,78.7 446.8,79.7 442.3,80.7 437.7,81.6" fill="#f2b705" fill-opacity="0.17"/>
<g fill="#d9510f" fill-opacity="0.85">
<circle cx="453.6" cy="79.5" r="1.35"/><circle cx="468.9" cy="81.6" r="1.35"/><circle cx="474.2" cy="82.0" r="1.35"/><circle cx="471.9" cy="78.7" r="1.35"/><circle cx="467.3" cy="74.8" r="1.35"/><circle cx="458.0" cy="80.1" r="1.35"/><circle cx="467.5" cy="77.7" r="1.35"/><circle cx="444.2" cy="79.1" r="1.35"/><circle cx="451.8" cy="78.3" r="1.35"/><circle cx="478.9" cy="79.6" r="1.35"/><circle cx="460.0" cy="79.3" r="1.35"/><circle cx="423.5" cy="77.9" r="1.35"/><circle cx="468.5" cy="79.3" r="1.35"/><circle cx="456.3" cy="81.3" r="1.35"/><circle cx="459.1" cy="76.9" r="1.35"/><circle cx="460.0" cy="76.6" r="1.35"/><circle cx="428.4" cy="80.7" r="1.35"/><circle cx="464.9" cy="79.7" r="1.35"/><circle cx="440.1" cy="81.2" r="1.35"/><circle cx="477.4" cy="82.6" r="1.35"/><circle cx="448.7" cy="82.2" r="1.35"/><circle cx="454.3" cy="78.2" r="1.35"/><circle cx="469.0" cy="84.3" r="1.35"/><circle cx="480.1" cy="81.0" r="1.35"/><circle cx="453.8" cy="75.9" r="1.35"/><circle cx="460.3" cy="82.5" r="1.35"/><circle cx="453.2" cy="81.3" r="1.35"/><circle cx="448.4" cy="80.4" r="1.35"/><circle cx="472.6" cy="78.9" r="1.35"/><circle cx="443.7" cy="73.4" r="1.35"/><circle cx="448.7" cy="79.4" r="1.35"/><circle cx="461.8" cy="78.0" r="1.35"/><circle cx="457.1" cy="78.6" r="1.35"/><circle cx="488.3" cy="79.5" r="1.35"/><circle cx="447.5" cy="78.9" r="1.35"/><circle cx="451.1" cy="80.5" r="1.35"/><circle cx="463.8" cy="78.9" r="1.35"/><circle cx="457.7" cy="77.8" r="1.35"/><circle cx="458.9" cy="82.6" r="1.35"/><circle cx="472.6" cy="80.5" r="1.35"/><circle cx="476.9" cy="81.2" r="1.35"/><circle cx="468.7" cy="79.0" r="1.35"/><circle cx="426.8" cy="83.1" r="1.35"/><circle cx="447.0" cy="76.5" r="1.35"/><circle cx="437.2" cy="77.6" r="1.35"/><circle cx="475.3" cy="78.6" r="1.35"/><circle cx="470.0" cy="80.8" r="1.35"/><circle cx="461.2" cy="79.2" r="1.35"/><circle cx="466.7" cy="78.1" r="1.35"/><circle cx="458.7" cy="81.3" r="1.35"/><circle cx="454.1" cy="78.8" r="1.35"/><circle cx="440.1" cy="82.5" r="1.35"/><circle cx="456.1" cy="80.9" r="1.35"/><circle cx="457.9" cy="85.7" r="1.35"/><circle cx="457.0" cy="80.2" r="1.35"/><circle cx="471.3" cy="84.2" r="1.35"/><circle cx="457.4" cy="78.6" r="1.35"/><circle cx="467.6" cy="77.0" r="1.35"/><circle cx="474.9" cy="82.1" r="1.35"/><circle cx="469.5" cy="80.4" r="1.35"/><circle cx="451.1" cy="76.2" r="1.35"/><circle cx="453.3" cy="81.6" r="1.35"/><circle cx="456.1" cy="81.6" r="1.35"/><circle cx="474.3" cy="78.8" r="1.35"/><circle cx="479.3" cy="78.7" r="1.35"/><circle cx="453.5" cy="77.3" r="1.35"/><circle cx="452.9" cy="80.7" r="1.35"/><circle cx="459.2" cy="79.6" r="1.35"/><circle cx="476.7" cy="81.1" r="1.35"/><circle cx="465.9" cy="79.7" r="1.35"/><circle cx="445.2" cy="82.2" r="1.35"/><circle cx="458.5" cy="78.8" r="1.35"/><circle cx="465.5" cy="78.6" r="1.35"/><circle cx="462.0" cy="80.7" r="1.35"/><circle cx="466.8" cy="82.0" r="1.35"/><circle cx="444.1" cy="80.4" r="1.35"/><circle cx="443.0" cy="80.8" r="1.35"/><circle cx="451.7" cy="80.9" r="1.35"/><circle cx="460.8" cy="81.5" r="1.35"/><circle cx="455.9" cy="83.6" r="1.35"/><circle cx="463.2" cy="81.7" r="1.35"/><circle cx="466.5" cy="86.1" r="1.35"/><circle cx="451.0" cy="79.1" r="1.35"/><circle cx="429.9" cy="80.5" r="1.35"/><circle cx="462.6" cy="79.4" r="1.35"/><circle cx="442.1" cy="79.2" r="1.35"/><circle cx="463.3" cy="81.9" r="1.35"/><circle cx="470.9" cy="79.8" r="1.35"/><circle cx="461.6" cy="80.7" r="1.35"/><circle cx="468.4" cy="79.5" r="1.35"/><circle cx="476.0" cy="78.7" r="1.35"/><circle cx="453.4" cy="80.2" r="1.35"/><circle cx="473.2" cy="80.5" r="1.35"/><circle cx="466.3" cy="78.5" r="1.35"/><circle cx="459.0" cy="85.0" r="1.35"/><circle cx="463.0" cy="79.2" r="1.35"/><circle cx="463.1" cy="81.4" r="1.35"/><circle cx="476.9" cy="80.0" r="1.35"/><circle cx="453.3" cy="81.3" r="1.35"/><circle cx="466.0" cy="82.2" r="1.35"/><circle cx="448.4" cy="75.1" r="1.35"/><circle cx="478.3" cy="77.3" r="1.35"/><circle cx="479.0" cy="78.3" r="1.35"/><circle cx="439.6" cy="77.0" r="1.35"/><circle cx="477.3" cy="78.6" r="1.35"/><circle cx="436.1" cy="76.8" r="1.35"/><circle cx="479.0" cy="80.8" r="1.35"/><circle cx="463.0" cy="77.9" r="1.35"/><circle cx="460.2" cy="77.2" r="1.35"/><circle cx="462.4" cy="78.1" r="1.35"/><circle cx="462.4" cy="83.1" r="1.35"/><circle cx="448.5" cy="72.5" r="1.35"/><circle cx="465.0" cy="76.7" r="1.35"/><circle cx="476.1" cy="75.8" r="1.35"/><circle cx="468.5" cy="81.0" r="1.35"/><circle cx="461.6" cy="84.1" r="1.35"/><circle cx="458.9" cy="77.6" r="1.35"/><circle cx="433.4" cy="79.2" r="1.35"/><circle cx="472.0" cy="76.6" r="1.35"/><circle cx="449.4" cy="81.2" r="1.35"/><circle cx="437.1" cy="82.0" r="1.35"/><circle cx="468.3" cy="74.9" r="1.35"/><circle cx="446.5" cy="76.5" r="1.35"/><circle cx="466.9" cy="80.8" r="1.35"/><circle cx="489.8" cy="85.4" r="1.35"/><circle cx="460.5" cy="79.2" r="1.35"/><circle cx="489.0" cy="75.6" r="1.35"/><circle cx="490.7" cy="79.4" r="1.35"/><circle cx="474.1" cy="76.6" r="1.35"/><circle cx="468.0" cy="78.9" r="1.35"/><circle cx="459.0" cy="80.6" r="1.35"/><circle cx="445.4" cy="75.2" r="1.35"/><circle cx="455.6" cy="84.4" r="1.35"/><circle cx="464.8" cy="79.8" r="1.35"/><circle cx="463.6" cy="75.5" r="1.35"/><circle cx="460.0" cy="80.3" r="1.35"/><circle cx="451.7" cy="79.7" r="1.35"/><circle cx="455.7" cy="79.2" r="1.35"/><circle cx="497.3" cy="78.8" r="1.35"/><circle cx="450.2" cy="75.3" r="1.35"/><circle cx="472.6" cy="77.8" r="1.35"/><circle cx="470.6" cy="77.8" r="1.35"/><circle cx="470.1" cy="76.4" r="1.35"/><circle cx="474.4" cy="76.6" r="1.35"/><circle cx="454.8" cy="79.7" r="1.35"/><circle cx="451.9" cy="77.5" r="1.35"/><circle cx="472.1" cy="80.7" r="1.35"/><circle cx="468.9" cy="73.7" r="1.35"/><circle cx="477.4" cy="82.2" r="1.35"/><circle cx="460.1" cy="78.2" r="1.35"/><circle cx="460.9" cy="78.8" r="1.35"/><circle cx="476.7" cy="78.9" r="1.35"/><circle cx="447.1" cy="78.0" r="1.35"/><circle cx="460.1" cy="79.4" r="1.35"/><circle cx="454.0" cy="82.9" r="1.35"/><circle cx="445.1" cy="80.5" r="1.35"/><circle cx="447.4" cy="85.9" r="1.35"/><circle cx="476.3" cy="82.3" r="1.35"/><circle cx="451.9" cy="78.5" r="1.35"/><circle cx="430.0" cy="76.6" r="1.35"/><circle cx="451.4" cy="78.2" r="1.35"/><circle cx="455.1" cy="79.0" r="1.35"/><circle cx="462.7" cy="79.7" r="1.35"/><circle cx="437.6" cy="83.1" r="1.35"/><circle cx="460.8" cy="76.4" r="1.35"/><circle cx="454.3" cy="78.5" r="1.35"/><circle cx="463.5" cy="78.6" r="1.35"/><circle cx="474.2" cy="83.1" r="1.35"/><circle cx="464.9" cy="80.1" r="1.35"/><circle cx="457.3" cy="81.6" r="1.35"/><circle cx="451.1" cy="82.0" r="1.35"/><circle cx="447.1" cy="73.9" r="1.35"/><circle cx="483.4" cy="79.7" r="1.35"/><circle cx="471.0" cy="81.9" r="1.35"/><circle cx="425.2" cy="83.9" r="1.35"/><circle cx="463.2" cy="76.4" r="1.35"/><circle cx="460.8" cy="82.0" r="1.35"/><circle cx="458.2" cy="82.0" r="1.35"/><circle cx="443.2" cy="80.2" r="1.35"/><circle cx="456.1" cy="81.5" r="1.35"/><circle cx="449.8" cy="81.8" r="1.35"/><circle cx="464.4" cy="76.5" r="1.35"/><circle cx="458.6" cy="74.5" r="1.35"/><circle cx="440.3" cy="79.1" r="1.35"/><circle cx="446.3" cy="80.1" r="1.35"/><circle cx="462.7" cy="78.4" r="1.35"/><circle cx="476.0" cy="81.0" r="1.35"/><circle cx="445.2" cy="80.1" r="1.35"/><circle cx="465.2" cy="81.3" r="1.35"/><circle cx="473.0" cy="75.8" r="1.35"/><circle cx="426.9" cy="78.0" r="1.35"/><circle cx="433.1" cy="78.1" r="1.35"/><circle cx="432.8" cy="77.3" r="1.35"/><circle cx="432.2" cy="77.5" r="1.35"/><circle cx="462.0" cy="67.5" r="1.35"/><circle cx="441.6" cy="67.5" r="1.35"/><circle cx="436.3" cy="71.5" r="1.35"/><circle cx="451.3" cy="64.9" r="1.35"/>
</g>
<polygon points="421.0,76.1 424.8,76.2 428.6,76.4 432.4,76.5 436.3,76.6 440.1,76.8 443.9,76.9 447.7,77.1 451.5,77.2 455.3,77.3 459.1,77.5 463.0,77.4 466.8,77.4 470.6,77.4 474.4,77.3 478.2,77.3 482.0,77.2 485.8,77.2 489.7,77.1 493.5,77.1 497.3,77.1 497.3,79.7 493.5,79.5 489.7,79.4 485.8,79.3 482.0,79.1 478.2,79.0 474.4,78.8 470.6,78.7 466.8,78.6 463.0,78.4 459.1,78.3 455.3,78.3 451.5,78.4 447.7,78.4 443.9,78.4 440.1,78.5 436.3,78.5 432.4,78.6 428.6,78.6 424.8,78.7 421.0,78.7" fill="#d9510f" fill-opacity="0.17"/>
<line x1="425.4" y1="85.0" x2="528.1" y2="49.6" stroke="#e9d9ab" stroke-width="0.9"/>
<line x1="437.7" y1="77.7" x2="528.1" y2="64.0" stroke="#f2b705" stroke-width="0.9"/>
<line x1="421.0" y1="77.4" x2="497.3" y2="78.4" stroke="#d9510f" stroke-width="0.9"/>
</g>
<rect x="386.5" y="33.5" width="154.0" height="98" fill="none" stroke="#a3a3a3" stroke-width="1"/>
<line x1="386.4" y1="131.4" x2="386.4" y2="133.0" stroke="#a3a3a3" stroke-width="0.6"/>
<text x="386.40" y="138.90" font-size="5.9" text-anchor="middle">0</text>
<line x1="386.4" y1="131.4" x2="384.79999999999995" y2="131.4" stroke="#a3a3a3" stroke-width="0.6"/>
<text x="384.00" y="133.45" font-size="5.9" text-anchor="end">0</text>
<line x1="406.9" y1="131.4" x2="406.9" y2="133.0" stroke="#a3a3a3" stroke-width="0.6"/>
<text x="406.93" y="138.90" font-size="5.9" text-anchor="middle">2</text>
<line x1="386.4" y1="118.3" x2="384.79999999999995" y2="118.3" stroke="#a3a3a3" stroke-width="0.6"/>
<text x="384.00" y="120.36" font-size="5.9" text-anchor="end">2</text>
<line x1="427.5" y1="131.4" x2="427.5" y2="133.0" stroke="#a3a3a3" stroke-width="0.6"/>
<text x="427.47" y="138.90" font-size="5.9" text-anchor="middle">4</text>
<line x1="386.4" y1="105.2" x2="384.79999999999995" y2="105.2" stroke="#a3a3a3" stroke-width="0.6"/>
<text x="384.00" y="107.26" font-size="5.9" text-anchor="end">4</text>
<line x1="448.0" y1="131.4" x2="448.0" y2="133.0" stroke="#a3a3a3" stroke-width="0.6"/>
<text x="448.00" y="138.90" font-size="5.9" text-anchor="middle">6</text>
<line x1="386.4" y1="92.1" x2="384.79999999999995" y2="92.1" stroke="#a3a3a3" stroke-width="0.6"/>
<text x="384.00" y="94.17" font-size="5.9" text-anchor="end">6</text>
<line x1="468.5" y1="131.4" x2="468.5" y2="133.0" stroke="#a3a3a3" stroke-width="0.6"/>
<text x="468.53" y="138.90" font-size="5.9" text-anchor="middle">8</text>
<line x1="386.4" y1="79.0" x2="384.79999999999995" y2="79.0" stroke="#a3a3a3" stroke-width="0.6"/>
<text x="384.00" y="81.08" font-size="5.9" text-anchor="end">8</text>
<line x1="489.1" y1="131.4" x2="489.1" y2="133.0" stroke="#a3a3a3" stroke-width="0.6"/>
<text x="489.07" y="138.90" font-size="5.9" text-anchor="middle">10</text>
<line x1="386.4" y1="65.9" x2="384.79999999999995" y2="65.9" stroke="#a3a3a3" stroke-width="0.6"/>
<text x="384.00" y="67.98" font-size="5.9" text-anchor="end">10</text>
<line x1="509.6" y1="131.4" x2="509.6" y2="133.0" stroke="#a3a3a3" stroke-width="0.6"/>
<text x="509.60" y="138.90" font-size="5.9" text-anchor="middle">12</text>
<line x1="386.4" y1="52.8" x2="384.79999999999995" y2="52.8" stroke="#a3a3a3" stroke-width="0.6"/>
<text x="384.00" y="54.89" font-size="5.9" text-anchor="end">12</text>
<line x1="530.1" y1="131.4" x2="530.1" y2="133.0" stroke="#a3a3a3" stroke-width="0.6"/>
<text x="530.13" y="138.90" font-size="5.9" text-anchor="middle">14</text>
<line x1="386.4" y1="39.7" x2="384.79999999999995" y2="39.7" stroke="#a3a3a3" stroke-width="0.6"/>
<text x="384.00" y="41.80" font-size="5.9" text-anchor="end">14</text>
<text x="463.40" y="31.10" font-size="7.7" text-anchor="middle" textLength="41.2" lengthAdjust="spacingAndGlyphs">c) tab-DNN</text>
<text x="463.40" y="146.60" font-size="7.5" text-anchor="middle" textLength="39.4" lengthAdjust="spacingAndGlyphs">Yield (t/ha)</text>
<text x="373.00" y="79.80" font-size="7.5" text-anchor="middle" textLength="72.5" lengthAdjust="spacingAndGlyphs" transform="rotate(-90 373.00 79.80)">Predicted yield (t/ha)</text>
<rect x="387.2" y="34.6" width="58.4" height="23.3" rx="1.2" fill="#ffffff" fill-opacity="0.8" stroke="#dddddd" stroke-width="0.6"/>
<rect x="389.6" y="38.0" width="7.8" height="2.8" fill="#e9d9ab"/>
<text x="400.80" y="41.00" font-size="6.2" text-anchor="start">2017, R2: 0.45</text>
<rect x="389.6" y="45.1" width="7.8" height="2.8" fill="#f2b705"/>
<text x="400.80" y="48.10" font-size="6.2" text-anchor="start">2018, R2: 0.02</text>
<rect x="389.6" y="52.2" width="7.8" height="2.8" fill="#d9510f"/>
<text x="400.80" y="55.20" font-size="6.2" text-anchor="start">2019, R2: -0.75</text>
<rect x="43.60" y="201.20" width="6.80" height="20.00" fill="#fdfbf4" stroke="#4d4d4d" stroke-width="0.5"/><rect x="40.20" y="204.80" width="13.60" height="11.60" fill="#e6d9b0" stroke="#4d4d4d" stroke-width="0.5"/><line x1="40.20" y1="210.20" x2="53.80" y2="210.20" stroke="#4d4d4d" stroke-width="0.5"/><circle cx="47.00" cy="185.50" r="0.95" fill="#333333"/><circle cx="47.00" cy="193.30" r="0.95" fill="#333333"/><circle cx="47.00" cy="198.20" r="0.95" fill="#333333"/><circle cx="47.00" cy="200.20" r="0.95" fill="#333333"/><circle cx="47.00" cy="222.20" r="0.95" fill="#333333"/><circle cx="47.00" cy="224.20" r="0.95" fill="#333333"/><circle cx="47.00" cy="226.40" r="0.95" fill="#333333"/>
<rect x="94.80" y="204.00" width="6.80" height="16.90" fill="#fdfbf4" stroke="#4d4d4d" stroke-width="0.5"/><rect x="91.40" y="207.60" width="13.60" height="8.40" fill="#e6d9b0" stroke="#4d4d4d" stroke-width="0.5"/><line x1="91.40" y1="212.00" x2="105.00" y2="212.00" stroke="#4d4d4d" stroke-width="0.5"/><circle cx="98.20" cy="195.50" r="0.95" fill="#333333"/><circle cx="98.20" cy="197.50" r="0.95" fill="#333333"/><circle cx="98.20" cy="199.50" r="0.95" fill="#333333"/><circle cx="98.20" cy="201.50" r="0.95" fill="#333333"/><circle cx="98.20" cy="203.30" r="0.95" fill="#333333"/><circle cx="98.20" cy="222.10" r="0.95" fill="#333333"/><circle cx="98.20" cy="224.50" r="0.95" fill="#333333"/><circle cx="98.20" cy="227.00" r="0.95" fill="#333333"/><circle cx="98.20" cy="231.20" r="0.95" fill="#333333"/>
<rect x="109.76" y="188.80" width="4.08" height="44.70" fill="#fbf1d4" stroke="#4d4d4d" stroke-width="0.5"/><rect x="108.40" y="193.20" width="6.80" height="37.30" fill="#f0d078" stroke="#4d4d4d" stroke-width="0.5"/><rect x="105.00" y="197.90" width="13.60" height="28.20" fill="#dcab28" stroke="#4d4d4d" stroke-width="0.5"/><line x1="105.00" y1="211.50" x2="118.60" y2="211.50" stroke="#4d4d4d" stroke-width="0.5"/><circle cx="111.80" cy="174.70" r="0.95" fill="#333333"/><circle cx="111.80" cy="179.60" r="0.95" fill="#333333"/><circle cx="111.80" cy="183.40" r="0.95" fill="#333333"/><circle cx="111.80" cy="185.50" r="0.95" fill="#333333"/><circle cx="111.80" cy="187.60" r="0.95" fill="#333333"/><circle cx="111.80" cy="235.20" r="0.95" fill="#333333"/><circle cx="111.80" cy="237.50" r="0.95" fill="#333333"/><circle cx="111.80" cy="240.00" r="0.95" fill="#333333"/><circle cx="111.80" cy="242.20" r="0.95" fill="#333333"/><circle cx="111.80" cy="244.50" r="0.95" fill="#333333"/><circle cx="111.80" cy="252.60" r="0.95" fill="#333333"/>
<rect x="124.35" y="190.90" width="2.11" height="42.50" fill="#f5e4dc" stroke="#4d4d4d" stroke-width="0.5"/><rect x="123.36" y="197.30" width="4.08" height="30.30" fill="#f2bc9f" stroke="#4d4d4d" stroke-width="0.5"/><rect x="122.00" y="200.80" width="6.80" height="23.30" fill="#e8906a" stroke="#4d4d4d" stroke-width="0.5"/><rect x="118.60" y="206.40" width="13.60" height="13.00" fill="#cf5a1f" stroke="#4d4d4d" stroke-width="0.5"/><line x1="118.60" y1="212.40" x2="132.20" y2="212.40" stroke="#4d4d4d" stroke-width="0.5"/><circle cx="125.40" cy="178.60" r="0.95" fill="#333333"/><circle cx="125.40" cy="186.80" r="0.95" fill="#333333"/><circle cx="125.40" cy="189.20" r="0.95" fill="#333333"/><circle cx="125.40" cy="236.50" r="0.95" fill="#333333"/><circle cx="125.40" cy="239.20" r="0.95" fill="#333333"/><circle cx="125.40" cy="245.40" r="0.95" fill="#333333"/>
<rect x="146.00" y="200.30" width="6.80" height="18.90" fill="#fdfbf4" stroke="#4d4d4d" stroke-width="0.5"/><rect x="142.60" y="203.60" width="13.60" height="12.20" fill="#e6d9b0" stroke="#4d4d4d" stroke-width="0.5"/><line x1="142.60" y1="210.40" x2="156.20" y2="210.40" stroke="#4d4d4d" stroke-width="0.5"/><circle cx="149.40" cy="194.00" r="0.95" fill="#333333"/><circle cx="149.40" cy="196.20" r="0.95" fill="#333333"/><circle cx="149.40" cy="198.40" r="0.95" fill="#333333"/><circle cx="149.40" cy="200.20" r="0.95" fill="#333333"/><circle cx="149.40" cy="220.50" r="0.95" fill="#333333"/><circle cx="149.40" cy="222.50" r="0.95" fill="#333333"/><circle cx="149.40" cy="224.20" r="0.95" fill="#333333"/><circle cx="149.40" cy="227.40" r="0.95" fill="#333333"/><circle cx="149.40" cy="230.40" r="0.95" fill="#333333"/><circle cx="149.40" cy="234.00" r="0.95" fill="#333333"/>
<rect x="34.5" y="162.5" width="154.0" height="98" fill="none" stroke="#a3a3a3" stroke-width="1"/>
<line x1="35.0" y1="260.3" x2="33.4" y2="260.3" stroke="#a3a3a3" stroke-width="0.6"/>
<text x="32.60" y="262.90" font-size="7.4" text-anchor="end">−6</text>
<line x1="35.0" y1="244.0" x2="33.4" y2="244.0" stroke="#a3a3a3" stroke-width="0.6"/>
<text x="32.60" y="246.58" font-size="7.4" text-anchor="end">−4</text>
<line x1="35.0" y1="227.7" x2="33.4" y2="227.7" stroke="#a3a3a3" stroke-width="0.6"/>
<text x="32.60" y="230.27" font-size="7.4" text-anchor="end">−2</text>
<line x1="35.0" y1="211.4" x2="33.4" y2="211.4" stroke="#a3a3a3" stroke-width="0.6"/>
<text x="32.60" y="213.95" font-size="7.4" text-anchor="end">0</text>
<line x1="35.0" y1="195.0" x2="33.4" y2="195.0" stroke="#a3a3a3" stroke-width="0.6"/>
<text x="32.60" y="197.63" font-size="7.4" text-anchor="end">2</text>
<line x1="35.0" y1="178.7" x2="33.4" y2="178.7" stroke="#a3a3a3" stroke-width="0.6"/>
<text x="32.60" y="181.32" font-size="7.4" text-anchor="end">4</text>
<line x1="35.0" y1="162.4" x2="33.4" y2="162.4" stroke="#a3a3a3" stroke-width="0.6"/>
<text x="32.60" y="165.00" font-size="7.4" text-anchor="end">6</text>
<line x1="60.6" y1="260.3" x2="60.6" y2="261.9" stroke="#a3a3a3" stroke-width="0.6"/>
<text x="60.60" y="269.00" font-size="7.0" text-anchor="middle" textLength="16.8" lengthAdjust="spacingAndGlyphs">P2F1</text>
<line x1="111.8" y1="260.3" x2="111.8" y2="261.9" stroke="#a3a3a3" stroke-width="0.6"/>
<text x="111.80" y="269.00" font-size="7.0" text-anchor="middle" textLength="16.8" lengthAdjust="spacingAndGlyphs">P1F1</text>
<line x1="163.0" y1="260.3" x2="163.0" y2="261.9" stroke="#a3a3a3" stroke-width="0.6"/>
<text x="163.00" y="269.00" font-size="7.0" text-anchor="middle" textLength="16.8" lengthAdjust="spacingAndGlyphs">P1F2</text>
<text x="112.00" y="159.60" font-size="7.7" text-anchor="middle" textLength="65.5" lengthAdjust="spacingAndGlyphs">d) Random Forest</text>
<text x="112.00" y="277.70" font-size="7.5" text-anchor="middle" textLength="36.7" lengthAdjust="spacingAndGlyphs">Treatment</text>
<text x="19.40" y="211.00" font-size="7.5" text-anchor="middle" textLength="55.6" lengthAdjust="spacingAndGlyphs" transform="rotate(-90 19.40 211.00)">Prediction Error</text>
<rect x="219.20" y="193.20" width="6.80" height="18.00" fill="#fdfbf4" stroke="#4d4d4d" stroke-width="0.5"/><rect x="215.80" y="195.90" width="13.60" height="9.20" fill="#e6d9b0" stroke="#4d4d4d" stroke-width="0.5"/><line x1="215.80" y1="201.00" x2="229.40" y2="201.00" stroke="#4d4d4d" stroke-width="0.5"/><circle cx="222.60" cy="179.90" r="0.95" fill="#333333"/><circle cx="222.60" cy="184.90" r="0.95" fill="#333333"/><circle cx="222.60" cy="187.00" r="0.95" fill="#333333"/><circle cx="222.60" cy="189.00" r="0.95" fill="#333333"/><circle cx="222.60" cy="191.00" r="0.95" fill="#333333"/><circle cx="222.60" cy="192.80" r="0.95" fill="#333333"/><circle cx="222.60" cy="211.80" r="0.95" fill="#333333"/><circle cx="222.60" cy="213.50" r="0.95" fill="#333333"/><circle cx="222.60" cy="215.10" r="0.95" fill="#333333"/><circle cx="222.60" cy="218.10" r="0.95" fill="#333333"/>
<rect x="270.40" y="185.30" width="6.80" height="19.00" fill="#fdfbf4" stroke="#4d4d4d" stroke-width="0.5"/><rect x="267.00" y="188.20" width="13.60" height="9.80" fill="#e6d9b0" stroke="#4d4d4d" stroke-width="0.5"/><line x1="267.00" y1="192.50" x2="280.60" y2="192.50" stroke="#4d4d4d" stroke-width="0.5"/><circle cx="273.80" cy="174.50" r="0.95" fill="#333333"/><circle cx="273.80" cy="177.00" r="0.95" fill="#333333"/><circle cx="273.80" cy="179.50" r="0.95" fill="#333333"/><circle cx="273.80" cy="182.00" r="0.95" fill="#333333"/><circle cx="273.80" cy="184.30" r="0.95" fill="#333333"/><circle cx="273.80" cy="205.50" r="0.95" fill="#333333"/><circle cx="273.80" cy="207.70" r="0.95" fill="#333333"/><circle cx="273.80" cy="210.00" r="0.95" fill="#333333"/><circle cx="273.80" cy="212.20" r="0.95" fill="#333333"/>
<rect x="285.36" y="173.10" width="4.08" height="43.50" fill="#fbf1d4" stroke="#4d4d4d" stroke-width="0.5"/><rect x="284.00" y="177.80" width="6.80" height="34.10" fill="#f0d078" stroke="#4d4d4d" stroke-width="0.5"/><rect x="280.60" y="184.50" width="13.60" height="22.30" fill="#dcab28" stroke="#4d4d4d" stroke-width="0.5"/><line x1="280.60" y1="196.80" x2="294.20" y2="196.80" stroke="#4d4d4d" stroke-width="0.5"/><circle cx="287.40" cy="164.60" r="0.95" fill="#333333"/><circle cx="287.40" cy="166.70" r="0.95" fill="#333333"/><circle cx="287.40" cy="168.80" r="0.95" fill="#333333"/><circle cx="287.40" cy="170.90" r="0.95" fill="#333333"/><circle cx="287.40" cy="173.00" r="0.95" fill="#333333"/><circle cx="287.40" cy="217.60" r="0.95" fill="#333333"/><circle cx="287.40" cy="219.50" r="0.95" fill="#333333"/><circle cx="287.40" cy="221.40" r="0.95" fill="#333333"/><circle cx="287.40" cy="223.20" r="0.95" fill="#333333"/>
<rect x="299.95" y="172.20" width="2.11" height="42.50" fill="#f5e4dc" stroke="#4d4d4d" stroke-width="0.5"/><rect x="298.96" y="188.20" width="4.08" height="21.20" fill="#f2bc9f" stroke="#4d4d4d" stroke-width="0.5"/><rect x="297.60" y="190.10" width="6.80" height="17.40" fill="#e8906a" stroke="#4d4d4d" stroke-width="0.5"/><rect x="294.20" y="193.00" width="13.60" height="10.90" fill="#cf5a1f" stroke="#4d4d4d" stroke-width="0.5"/><line x1="294.20" y1="198.50" x2="307.80" y2="198.50" stroke="#4d4d4d" stroke-width="0.5"/><circle cx="301.00" cy="169.50" r="0.95" fill="#333333"/><circle cx="301.00" cy="171.50" r="0.95" fill="#333333"/><circle cx="301.00" cy="216.60" r="0.95" fill="#333333"/><circle cx="301.00" cy="218.50" r="0.95" fill="#333333"/><circle cx="301.00" cy="220.40" r="0.95" fill="#333333"/><circle cx="301.00" cy="222.30" r="0.95" fill="#333333"/><circle cx="301.00" cy="224.20" r="0.95" fill="#333333"/><circle cx="301.00" cy="230.80" r="0.95" fill="#333333"/>
<rect x="321.60" y="182.70" width="6.80" height="19.90" fill="#fdfbf4" stroke="#4d4d4d" stroke-width="0.5"/><rect x="318.20" y="186.60" width="13.60" height="13.40" fill="#e6d9b0" stroke="#4d4d4d" stroke-width="0.5"/><line x1="318.20" y1="193.50" x2="331.80" y2="193.50" stroke="#4d4d4d" stroke-width="0.5"/><circle cx="325.00" cy="170.10" r="0.95" fill="#333333"/><circle cx="325.00" cy="175.30" r="0.95" fill="#333333"/><circle cx="325.00" cy="177.50" r="0.95" fill="#333333"/><circle cx="325.00" cy="179.50" r="0.95" fill="#333333"/><circle cx="325.00" cy="181.60" r="0.95" fill="#333333"/><circle cx="325.00" cy="203.50" r="0.95" fill="#333333"/><circle cx="325.00" cy="205.60" r="0.95" fill="#333333"/><circle cx="325.00" cy="208.50" r="0.95" fill="#333333"/><circle cx="325.00" cy="210.40" r="0.95" fill="#333333"/>
<rect x="210.5" y="162.5" width="154.0" height="98" fill="none" stroke="#a3a3a3" stroke-width="1"/>
<line x1="210.6" y1="260.3" x2="209.0" y2="260.3" stroke="#a3a3a3" stroke-width="0.6"/>
<text x="208.20" y="262.90" font-size="7.4" text-anchor="end">−6</text>
<line x1="210.6" y1="244.0" x2="209.0" y2="244.0" stroke="#a3a3a3" stroke-width="0.6"/>
<text x="208.20" y="246.58" font-size="7.4" text-anchor="end">−4</text>
<line x1="210.6" y1="227.7" x2="209.0" y2="227.7" stroke="#a3a3a3" stroke-width="0.6"/>
<text x="208.20" y="230.27" font-size="7.4" text-anchor="end">−2</text>
<line x1="210.6" y1="211.4" x2="209.0" y2="211.4" stroke="#a3a3a3" stroke-width="0.6"/>
<text x="208.20" y="213.95" font-size="7.4" text-anchor="end">0</text>
<line x1="210.6" y1="195.0" x2="209.0" y2="195.0" stroke="#a3a3a3" stroke-width="0.6"/>
<text x="208.20" y="197.63" font-size="7.4" text-anchor="end">2</text>
<line x1="210.6" y1="178.7" x2="209.0" y2="178.7" stroke="#a3a3a3" stroke-width="0.6"/>
<text x="208.20" y="181.32" font-size="7.4" text-anchor="end">4</text>
<line x1="210.6" y1="162.4" x2="209.0" y2="162.4" stroke="#a3a3a3" stroke-width="0.6"/>
<text x="208.20" y="165.00" font-size="7.4" text-anchor="end">6</text>
<line x1="236.2" y1="260.3" x2="236.2" y2="261.9" stroke="#a3a3a3" stroke-width="0.6"/>
<text x="236.20" y="269.00" font-size="7.0" text-anchor="middle" textLength="16.8" lengthAdjust="spacingAndGlyphs">P2F1</text>
<line x1="287.4" y1="260.3" x2="287.4" y2="261.9" stroke="#a3a3a3" stroke-width="0.6"/>
<text x="287.40" y="269.00" font-size="7.0" text-anchor="middle" textLength="16.8" lengthAdjust="spacingAndGlyphs">P1F1</text>
<line x1="338.6" y1="260.3" x2="338.6" y2="261.9" stroke="#a3a3a3" stroke-width="0.6"/>
<text x="338.60" y="269.00" font-size="7.0" text-anchor="middle" textLength="16.8" lengthAdjust="spacingAndGlyphs">P1F2</text>
<text x="287.60" y="159.60" font-size="7.7" text-anchor="middle" textLength="41.5" lengthAdjust="spacingAndGlyphs">e) XGBoost</text>
<text x="287.60" y="277.70" font-size="7.5" text-anchor="middle" textLength="36.7" lengthAdjust="spacingAndGlyphs">Treatment</text>
<text x="195.00" y="211.00" font-size="7.5" text-anchor="middle" textLength="55.6" lengthAdjust="spacingAndGlyphs" transform="rotate(-90 195.00 211.00)">Prediction Error</text>
<rect x="395.00" y="220.70" width="6.80" height="20.30" fill="#fdfbf4" stroke="#4d4d4d" stroke-width="0.5"/><rect x="391.60" y="224.10" width="13.60" height="14.20" fill="#e6d9b0" stroke="#4d4d4d" stroke-width="0.5"/><line x1="391.60" y1="229.00" x2="405.20" y2="229.00" stroke="#4d4d4d" stroke-width="0.5"/><circle cx="398.40" cy="213.70" r="0.95" fill="#333333"/><circle cx="398.40" cy="217.90" r="0.95" fill="#333333"/><circle cx="398.40" cy="220.00" r="0.95" fill="#333333"/><circle cx="398.40" cy="241.90" r="0.95" fill="#333333"/><circle cx="398.40" cy="243.80" r="0.95" fill="#333333"/><circle cx="398.40" cy="245.70" r="0.95" fill="#333333"/><circle cx="398.40" cy="248.30" r="0.95" fill="#333333"/><circle cx="398.40" cy="252.30" r="0.95" fill="#333333"/>
<rect x="446.20" y="199.70" width="6.80" height="19.60" fill="#fdfbf4" stroke="#4d4d4d" stroke-width="0.5"/><rect x="442.80" y="202.90" width="13.60" height="12.80" fill="#e6d9b0" stroke="#4d4d4d" stroke-width="0.5"/><line x1="442.80" y1="208.00" x2="456.40" y2="208.00" stroke="#4d4d4d" stroke-width="0.5"/><circle cx="449.60" cy="189.30" r="0.95" fill="#333333"/><circle cx="449.60" cy="193.00" r="0.95" fill="#333333"/><circle cx="449.60" cy="195.10" r="0.95" fill="#333333"/><circle cx="449.60" cy="197.20" r="0.95" fill="#333333"/><circle cx="449.60" cy="199.20" r="0.95" fill="#333333"/><circle cx="449.60" cy="220.30" r="0.95" fill="#333333"/><circle cx="449.60" cy="222.20" r="0.95" fill="#333333"/><circle cx="449.60" cy="224.00" r="0.95" fill="#333333"/><circle cx="449.60" cy="225.50" r="0.95" fill="#333333"/>
<rect x="461.16" y="193.10" width="4.08" height="48.20" fill="#fbf1d4" stroke="#4d4d4d" stroke-width="0.5"/><rect x="459.80" y="198.40" width="6.80" height="37.30" fill="#f0d078" stroke="#4d4d4d" stroke-width="0.5"/><rect x="456.40" y="204.10" width="13.60" height="23.40" fill="#dcab28" stroke="#4d4d4d" stroke-width="0.5"/><line x1="456.40" y1="214.90" x2="470.00" y2="214.90" stroke="#4d4d4d" stroke-width="0.5"/><circle cx="463.20" cy="182.00" r="0.95" fill="#333333"/><circle cx="463.20" cy="184.50" r="0.95" fill="#333333"/><circle cx="463.20" cy="187.00" r="0.95" fill="#333333"/><circle cx="463.20" cy="189.50" r="0.95" fill="#333333"/><circle cx="463.20" cy="192.00" r="0.95" fill="#333333"/><circle cx="463.20" cy="242.50" r="0.95" fill="#333333"/><circle cx="463.20" cy="244.80" r="0.95" fill="#333333"/><circle cx="463.20" cy="247.10" r="0.95" fill="#333333"/><circle cx="463.20" cy="249.40" r="0.95" fill="#333333"/><circle cx="463.20" cy="251.70" r="0.95" fill="#333333"/>
<rect x="475.75" y="198.80" width="2.11" height="36.90" fill="#f5e4dc" stroke="#4d4d4d" stroke-width="0.5"/><rect x="474.76" y="203.50" width="4.08" height="28.40" fill="#f2bc9f" stroke="#4d4d4d" stroke-width="0.5"/><rect x="473.40" y="206.70" width="6.80" height="20.80" fill="#e8906a" stroke="#4d4d4d" stroke-width="0.5"/><rect x="470.00" y="210.50" width="13.60" height="13.80" fill="#cf5a1f" stroke="#4d4d4d" stroke-width="0.5"/><line x1="470.00" y1="218.10" x2="483.60" y2="218.10" stroke="#4d4d4d" stroke-width="0.5"/><circle cx="476.80" cy="193.30" r="0.95" fill="#333333"/><circle cx="476.80" cy="195.80" r="0.95" fill="#333333"/><circle cx="476.80" cy="198.20" r="0.95" fill="#333333"/><circle cx="476.80" cy="237.50" r="0.95" fill="#333333"/><circle cx="476.80" cy="240.00" r="0.95" fill="#333333"/><circle cx="476.80" cy="243.00" r="0.95" fill="#333333"/><circle cx="476.80" cy="246.00" r="0.95" fill="#333333"/><circle cx="476.80" cy="249.50" r="0.95" fill="#333333"/><circle cx="476.80" cy="252.70" r="0.95" fill="#333333"/>
<rect x="497.40" y="207.50" width="6.80" height="22.10" fill="#fdfbf4" stroke="#4d4d4d" stroke-width="0.5"/><rect x="494.00" y="211.10" width="13.60" height="10.60" fill="#e6d9b0" stroke="#4d4d4d" stroke-width="0.5"/><line x1="494.00" y1="215.10" x2="507.60" y2="215.10" stroke="#4d4d4d" stroke-width="0.5"/><circle cx="500.80" cy="192.10" r="0.95" fill="#333333"/><circle cx="500.80" cy="200.30" r="0.95" fill="#333333"/><circle cx="500.80" cy="202.50" r="0.95" fill="#333333"/><circle cx="500.80" cy="204.80" r="0.95" fill="#333333"/><circle cx="500.80" cy="207.00" r="0.95" fill="#333333"/><circle cx="500.80" cy="230.50" r="0.95" fill="#333333"/><circle cx="500.80" cy="232.30" r="0.95" fill="#333333"/><circle cx="500.80" cy="234.00" r="0.95" fill="#333333"/><circle cx="500.80" cy="244.30" r="0.95" fill="#333333"/>
<rect x="386.5" y="162.5" width="154.0" height="98" fill="none" stroke="#a3a3a3" stroke-width="1"/>
<line x1="386.4" y1="260.3" x2="384.79999999999995" y2="260.3" stroke="#a3a3a3" stroke-width="0.6"/>
<text x="384.00" y="262.90" font-size="7.4" text-anchor="end">−6</text>
<line x1="386.4" y1="244.0" x2="384.79999999999995" y2="244.0" stroke="#a3a3a3" stroke-width="0.6"/>
<text x="384.00" y="246.58" font-size="7.4" text-anchor="end">−4</text>
<line x1="386.4" y1="227.7" x2="384.79999999999995" y2="227.7" stroke="#a3a3a3" stroke-width="0.6"/>
<text x="384.00" y="230.27" font-size="7.4" text-anchor="end">−2</text>
<line x1="386.4" y1="211.4" x2="384.79999999999995" y2="211.4" stroke="#a3a3a3" stroke-width="0.6"/>
<text x="384.00" y="213.95" font-size="7.4" text-anchor="end">0</text>
<line x1="386.4" y1="195.0" x2="384.79999999999995" y2="195.0" stroke="#a3a3a3" stroke-width="0.6"/>
<text x="384.00" y="197.63" font-size="7.4" text-anchor="end">2</text>
<line x1="386.4" y1="178.7" x2="384.79999999999995" y2="178.7" stroke="#a3a3a3" stroke-width="0.6"/>
<text x="384.00" y="181.32" font-size="7.4" text-anchor="end">4</text>
<line x1="386.4" y1="162.4" x2="384.79999999999995" y2="162.4" stroke="#a3a3a3" stroke-width="0.6"/>
<text x="384.00" y="165.00" font-size="7.4" text-anchor="end">6</text>
<line x1="412.0" y1="260.3" x2="412.0" y2="261.9" stroke="#a3a3a3" stroke-width="0.6"/>
<text x="412.00" y="269.00" font-size="7.0" text-anchor="middle" textLength="16.8" lengthAdjust="spacingAndGlyphs">P2F1</text>
<line x1="463.2" y1="260.3" x2="463.2" y2="261.9" stroke="#a3a3a3" stroke-width="0.6"/>
<text x="463.20" y="269.00" font-size="7.0" text-anchor="middle" textLength="16.8" lengthAdjust="spacingAndGlyphs">P1F1</text>
<line x1="514.4" y1="260.3" x2="514.4" y2="261.9" stroke="#a3a3a3" stroke-width="0.6"/>
<text x="514.40" y="269.00" font-size="7.0" text-anchor="middle" textLength="16.8" lengthAdjust="spacingAndGlyphs">P1F2</text>
<text x="463.40" y="159.60" font-size="7.7" text-anchor="middle" textLength="41.2" lengthAdjust="spacingAndGlyphs">f) tab-DNN</text>
<text x="463.40" y="277.70" font-size="7.5" text-anchor="middle" textLength="36.7" lengthAdjust="spacingAndGlyphs">Treatment</text>
<text x="370.80" y="211.00" font-size="7.5" text-anchor="middle" textLength="55.6" lengthAdjust="spacingAndGlyphs" transform="rotate(-90 370.80 211.00)">Prediction Error</text>
<rect x="388.6" y="163.8" width="22.6" height="17.2" rx="0.8" fill="#ffffff" fill-opacity="0.8" stroke="#dddddd" stroke-width="0.5"/>
<rect x="390.0" y="165.9" width="7.7" height="2.4" fill="#e6d9b0" stroke="#4d4d4d" stroke-width="0.4"/>
<text x="400.60" y="168.70" font-size="4.4" text-anchor="start" textLength="9.4" lengthAdjust="spacingAndGlyphs" style="stroke:none">2017</text>
<rect x="390.0" y="171.2" width="7.7" height="2.4" fill="#dcab28" stroke="#4d4d4d" stroke-width="0.4"/>
<text x="400.60" y="174.00" font-size="4.4" text-anchor="start" textLength="9.4" lengthAdjust="spacingAndGlyphs" style="stroke:none">2018</text>
<rect x="390.0" y="176.5" width="7.7" height="2.4" fill="#cf5a1f" stroke="#4d4d4d" stroke-width="0.4"/>
<text x="400.60" y="179.30" font-size="4.4" text-anchor="start" textLength="9.4" lengthAdjust="spacingAndGlyphs" style="stroke:none">2019</text>
<defs>
<clipPath id="clipT0"><rect x="35.0" y="33.2" width="154.0" height="98.2"/></clipPath>
<linearGradient id="cb0" x1="0" y1="1" x2="0" y2="0"><stop offset="0.0" stop-color="#fcfbfd"/><stop offset="0.1" stop-color="#f2f0f7"/><stop offset="0.2" stop-color="#e2e2ef"/><stop offset="0.3" stop-color="#cecfe5"/><stop offset="0.4" stop-color="#b6b6d8"/><stop offset="0.5" stop-color="#9e9ac8"/><stop offset="0.6" stop-color="#8683bd"/><stop offset="0.7" stop-color="#7262ac"/><stop offset="0.8" stop-color="#61409b"/><stop offset="0.9" stop-color="#4f1f8b"/><stop offset="1.0" stop-color="#3f007d"/></linearGradient>
<clipPath id="clipT1"><rect x="210.6" y="33.2" width="154.0" height="98.2"/></clipPath>
<linearGradient id="cb1" x1="0" y1="1" x2="0" y2="0"><stop offset="0.0" stop-color="#fcfbfd"/><stop offset="0.1" stop-color="#f2f0f7"/><stop offset="0.2" stop-color="#e2e2ef"/><stop offset="0.3" stop-color="#cecfe5"/><stop offset="0.4" stop-color="#b6b6d8"/><stop offset="0.5" stop-color="#9e9ac8"/><stop offset="0.6" stop-color="#8683bd"/><stop offset="0.7" stop-color="#7262ac"/><stop offset="0.8" stop-color="#61409b"/><stop offset="0.9" stop-color="#4f1f8b"/><stop offset="1.0" stop-color="#3f007d"/></linearGradient>
<clipPath id="clipT2"><rect x="386.4" y="33.2" width="154.0" height="98.2"/></clipPath>
<linearGradient id="cb2" x1="0" y1="1" x2="0" y2="0"><stop offset="0.0" stop-color="#fcfbfd"/><stop offset="0.1" stop-color="#f2f0f7"/><stop offset="0.2" stop-color="#e2e2ef"/><stop offset="0.3" stop-color="#cecfe5"/><stop offset="0.4" stop-color="#b6b6d8"/><stop offset="0.5" stop-color="#9e9ac8"/><stop offset="0.6" stop-color="#8683bd"/><stop offset="0.7" stop-color="#7262ac"/><stop offset="0.8" stop-color="#61409b"/><stop offset="0.9" stop-color="#4f1f8b"/><stop offset="1.0" stop-color="#3f007d"/></linearGradient>
</defs>
<rect x="35.00" y="291.20" width="41.17" height="33.10" fill="#4b1687"/>
<rect x="75.87" y="291.20" width="41.17" height="33.10" fill="#f3f2f8"/>
<rect x="116.73" y="291.20" width="41.17" height="33.10" fill="#fcfbfd"/>
<rect x="35.00" y="324.00" width="41.17" height="33.10" fill="#d8d8ea"/>
<rect x="75.87" y="324.00" width="41.17" height="33.10" fill="#3f007d"/>
<rect x="116.73" y="324.00" width="41.17" height="33.10" fill="#c1c2df"/>
<rect x="35.00" y="356.80" width="41.17" height="33.10" fill="#fbfafc"/>
<rect x="75.87" y="356.80" width="41.17" height="33.10" fill="#e6e5f1"/>
<rect x="116.73" y="356.80" width="41.17" height="33.10" fill="#aba9d0"/>
<text x="55.43" y="309.80" font-size="6.3" text-anchor="middle" fill="#ffffff" color="#ffffff" style="stroke:none">0.79</text>
<text x="96.30" y="309.80" font-size="6.3" text-anchor="middle" style="stroke:none">0.07</text>
<text x="137.17" y="309.80" font-size="6.3" text-anchor="middle" style="stroke:none">0.00</text>
<text x="55.43" y="342.60" font-size="6.3" text-anchor="middle" style="stroke:none">0.22</text>
<text x="96.30" y="342.60" font-size="6.3" text-anchor="middle" fill="#ffffff" color="#ffffff" style="stroke:none">0.85</text>
<text x="137.17" y="342.60" font-size="6.3" text-anchor="middle" style="stroke:none">0.30</text>
<text x="55.43" y="375.40" font-size="6.3" text-anchor="middle" style="stroke:none">0.01</text>
<text x="96.30" y="375.40" font-size="6.3" text-anchor="middle" style="stroke:none">0.15</text>
<text x="137.17" y="375.40" font-size="6.3" text-anchor="middle" style="stroke:none">0.38</text>
<line x1="75.87" y1="291.2" x2="75.87" y2="389.6" stroke="#ffffff" stroke-width="0.7" stroke-opacity="0.85"/>
<line x1="35.0" y1="324.00" x2="157.6" y2="324.00" stroke="#ffffff" stroke-width="0.7" stroke-opacity="0.85"/>
<line x1="116.73" y1="291.2" x2="116.73" y2="389.6" stroke="#ffffff" stroke-width="0.7" stroke-opacity="0.85"/>
<line x1="35.0" y1="356.80" x2="157.6" y2="356.80" stroke="#ffffff" stroke-width="0.7" stroke-opacity="0.85"/>
<rect x="35.0" y="291.2" width="122.6" height="98.4" fill="none" stroke="#a3a3a3" stroke-width="0.7"/>
<rect x="165.4" y="291.2" width="4.6" height="98.4" fill="url(#cb0)"/>
<line x1="170.0" y1="389.6" x2="172.0" y2="389.6" stroke="#777" stroke-width="0.5"/>
<text x="173.20" y="391.05" font-size="4.2" text-anchor="start" style="stroke:none">0.0</text>
<line x1="170.0" y1="378.0" x2="172.0" y2="378.0" stroke="#777" stroke-width="0.5"/>
<text x="173.20" y="379.47" font-size="4.2" text-anchor="start" style="stroke:none">0.1</text>
<line x1="170.0" y1="366.4" x2="172.0" y2="366.4" stroke="#777" stroke-width="0.5"/>
<text x="173.20" y="367.90" font-size="4.2" text-anchor="start" style="stroke:none">0.2</text>
<line x1="170.0" y1="354.9" x2="172.0" y2="354.9" stroke="#777" stroke-width="0.5"/>
<text x="173.20" y="356.32" font-size="4.2" text-anchor="start" style="stroke:none">0.3</text>
<line x1="170.0" y1="343.3" x2="172.0" y2="343.3" stroke="#777" stroke-width="0.5"/>
<text x="173.20" y="344.74" font-size="4.2" text-anchor="start" style="stroke:none">0.4</text>
<line x1="170.0" y1="331.7" x2="172.0" y2="331.7" stroke="#777" stroke-width="0.5"/>
<text x="173.20" y="333.17" font-size="4.2" text-anchor="start" style="stroke:none">0.5</text>
<line x1="170.0" y1="320.1" x2="172.0" y2="320.1" stroke="#777" stroke-width="0.5"/>
<text x="173.20" y="321.59" font-size="4.2" text-anchor="start" style="stroke:none">0.6</text>
<line x1="170.0" y1="308.6" x2="172.0" y2="308.6" stroke="#777" stroke-width="0.5"/>
<text x="173.20" y="310.01" font-size="4.2" text-anchor="start" style="stroke:none">0.7</text>
<line x1="170.0" y1="297.0" x2="172.0" y2="297.0" stroke="#777" stroke-width="0.5"/>
<text x="173.20" y="298.44" font-size="4.2" text-anchor="start" style="stroke:none">0.8</text>
<line x1="55.4" y1="389.6" x2="55.4" y2="391.0" stroke="#a3a3a3" stroke-width="0.5"/>
<text x="55.43" y="396.20" font-size="5.6" text-anchor="middle" textLength="12.4" lengthAdjust="spacingAndGlyphs">High</text>
<line x1="35.0" y1="307.6" x2="33.6" y2="307.6" stroke="#a3a3a3" stroke-width="0.5"/>
<text x="32.20" y="307.60" font-size="5.6" text-anchor="middle" textLength="12.4" lengthAdjust="spacingAndGlyphs" transform="rotate(-90 32.20 307.60)">High</text>
<line x1="96.3" y1="389.6" x2="96.3" y2="391.0" stroke="#a3a3a3" stroke-width="0.5"/>
<text x="96.30" y="396.20" font-size="5.6" text-anchor="middle" textLength="21.6" lengthAdjust="spacingAndGlyphs">Medium</text>
<line x1="35.0" y1="340.4" x2="33.6" y2="340.4" stroke="#a3a3a3" stroke-width="0.5"/>
<text x="32.20" y="340.40" font-size="5.6" text-anchor="middle" textLength="21.6" lengthAdjust="spacingAndGlyphs" transform="rotate(-90 32.20 340.40)">Medium</text>
<line x1="137.2" y1="389.6" x2="137.2" y2="391.0" stroke="#a3a3a3" stroke-width="0.5"/>
<text x="137.17" y="396.20" font-size="5.6" text-anchor="middle" textLength="10.4" lengthAdjust="spacingAndGlyphs">Low</text>
<line x1="35.0" y1="373.2" x2="33.6" y2="373.2" stroke="#a3a3a3" stroke-width="0.5"/>
<text x="32.20" y="373.20" font-size="5.6" text-anchor="middle" textLength="10.4" lengthAdjust="spacingAndGlyphs" transform="rotate(-90 32.20 373.20)">Low</text>
<text x="96.30" y="288.60" font-size="7.5" text-anchor="middle" textLength="65.9" lengthAdjust="spacingAndGlyphs">g) Random Forest</text>
<text x="96.30" y="404.60" font-size="7.9" text-anchor="middle" textLength="84.6" lengthAdjust="spacingAndGlyphs">Predicted performance</text>
<text x="23.40" y="340.50" font-size="8.2" text-anchor="middle" textLength="85.6" lengthAdjust="spacingAndGlyphs" transform="rotate(-90 23.40 340.50)">Observed performance</text>
<rect x="210.40" y="291.20" width="41.17" height="33.10" fill="#fcfbfd"/>
<rect x="251.27" y="291.20" width="41.17" height="33.10" fill="#eeecf4"/>
<rect x="292.13" y="291.20" width="41.17" height="33.10" fill="#faf9fc"/>
<rect x="210.40" y="324.00" width="41.17" height="33.10" fill="#fcfbfd"/>
<rect x="251.27" y="324.00" width="41.17" height="33.10" fill="#eeecf4"/>
<rect x="292.13" y="324.00" width="41.17" height="33.10" fill="#3f007d"/>
<rect x="210.40" y="356.80" width="41.17" height="33.10" fill="#fcfbfd"/>
<rect x="251.27" y="356.80" width="41.17" height="33.10" fill="#faf9fc"/>
<rect x="292.13" y="356.80" width="41.17" height="33.10" fill="#cdcde4"/>
<text x="230.83" y="309.80" font-size="6.3" text-anchor="middle" style="stroke:none">0.00</text>
<text x="271.70" y="309.80" font-size="6.3" text-anchor="middle" style="stroke:none">0.35</text>
<text x="312.57" y="309.80" font-size="6.3" text-anchor="middle" style="stroke:none">0.06</text>
<text x="230.83" y="342.60" font-size="6.3" text-anchor="middle" style="stroke:none">0.00</text>
<text x="271.70" y="342.60" font-size="6.3" text-anchor="middle" style="stroke:none">0.35</text>
<text x="312.57" y="342.60" font-size="6.3" text-anchor="middle" fill="#ffffff" color="#ffffff" style="stroke:none">2.62</text>
<text x="230.83" y="375.40" font-size="6.3" text-anchor="middle" style="stroke:none">0.00</text>
<text x="271.70" y="375.40" font-size="6.3" text-anchor="middle" style="stroke:none">0.05</text>
<text x="312.57" y="375.40" font-size="6.3" text-anchor="middle" style="stroke:none">0.80</text>
<line x1="251.27" y1="291.2" x2="251.27" y2="389.6" stroke="#ffffff" stroke-width="0.7" stroke-opacity="0.85"/>
<line x1="210.4" y1="324.00" x2="333.0" y2="324.00" stroke="#ffffff" stroke-width="0.7" stroke-opacity="0.85"/>
<line x1="292.13" y1="291.2" x2="292.13" y2="389.6" stroke="#ffffff" stroke-width="0.7" stroke-opacity="0.85"/>
<line x1="210.4" y1="356.80" x2="333.0" y2="356.80" stroke="#ffffff" stroke-width="0.7" stroke-opacity="0.85"/>
<rect x="210.4" y="291.2" width="122.6" height="98.4" fill="none" stroke="#a3a3a3" stroke-width="0.7"/>
<rect x="340.8" y="291.2" width="4.6" height="98.4" fill="url(#cb1)"/>
<line x1="345.4" y1="389.6" x2="347.4" y2="389.6" stroke="#777" stroke-width="0.5"/>
<text x="348.60" y="391.05" font-size="4.2" text-anchor="start" style="stroke:none">0.0</text>
<line x1="345.4" y1="370.8" x2="347.4" y2="370.8" stroke="#777" stroke-width="0.5"/>
<text x="348.60" y="372.27" font-size="4.2" text-anchor="start" style="stroke:none">0.5</text>
<line x1="345.4" y1="352.0" x2="347.4" y2="352.0" stroke="#777" stroke-width="0.5"/>
<text x="348.60" y="353.49" font-size="4.2" text-anchor="start" style="stroke:none">1.0</text>
<line x1="345.4" y1="333.3" x2="347.4" y2="333.3" stroke="#777" stroke-width="0.5"/>
<text x="348.60" y="334.71" font-size="4.2" text-anchor="start" style="stroke:none">1.5</text>
<line x1="345.4" y1="314.5" x2="347.4" y2="314.5" stroke="#777" stroke-width="0.5"/>
<text x="348.60" y="315.94" font-size="4.2" text-anchor="start" style="stroke:none">2.0</text>
<line x1="345.4" y1="295.7" x2="347.4" y2="295.7" stroke="#777" stroke-width="0.5"/>
<text x="348.60" y="297.16" font-size="4.2" text-anchor="start" style="stroke:none">2.5</text>
<line x1="230.8" y1="389.6" x2="230.8" y2="391.0" stroke="#a3a3a3" stroke-width="0.5"/>
<text x="230.83" y="396.20" font-size="5.6" text-anchor="middle" textLength="12.4" lengthAdjust="spacingAndGlyphs">High</text>
<line x1="210.4" y1="307.6" x2="209.0" y2="307.6" stroke="#a3a3a3" stroke-width="0.5"/>
<text x="207.60" y="307.60" font-size="5.6" text-anchor="middle" textLength="12.4" lengthAdjust="spacingAndGlyphs" transform="rotate(-90 207.60 307.60)">High</text>
<line x1="271.7" y1="389.6" x2="271.7" y2="391.0" stroke="#a3a3a3" stroke-width="0.5"/>
<text x="271.70" y="396.20" font-size="5.6" text-anchor="middle" textLength="21.6" lengthAdjust="spacingAndGlyphs">Medium</text>
<line x1="210.4" y1="340.4" x2="209.0" y2="340.4" stroke="#a3a3a3" stroke-width="0.5"/>
<text x="207.60" y="340.40" font-size="5.6" text-anchor="middle" textLength="21.6" lengthAdjust="spacingAndGlyphs" transform="rotate(-90 207.60 340.40)">Medium</text>
<line x1="312.6" y1="389.6" x2="312.6" y2="391.0" stroke="#a3a3a3" stroke-width="0.5"/>
<text x="312.57" y="396.20" font-size="5.6" text-anchor="middle" textLength="10.4" lengthAdjust="spacingAndGlyphs">Low</text>
<line x1="210.4" y1="373.2" x2="209.0" y2="373.2" stroke="#a3a3a3" stroke-width="0.5"/>
<text x="207.60" y="373.20" font-size="5.6" text-anchor="middle" textLength="10.4" lengthAdjust="spacingAndGlyphs" transform="rotate(-90 207.60 373.20)">Low</text>
<text x="271.70" y="288.60" font-size="7.5" text-anchor="middle" textLength="36.0" lengthAdjust="spacingAndGlyphs">h) XGbost</text>
<text x="271.70" y="404.60" font-size="7.9" text-anchor="middle" textLength="84.6" lengthAdjust="spacingAndGlyphs">Predicted performance</text>
<text x="198.80" y="340.50" font-size="8.2" text-anchor="middle" textLength="85.6" lengthAdjust="spacingAndGlyphs" transform="rotate(-90 198.80 340.50)">Observed performance</text>
<rect x="386.60" y="291.20" width="41.17" height="33.10" fill="#613f9a"/>
<rect x="427.47" y="291.20" width="41.17" height="33.10" fill="#f1eff6"/>
<rect x="468.33" y="291.20" width="41.17" height="33.10" fill="#fcfbfd"/>
<rect x="386.60" y="324.00" width="41.17" height="33.10" fill="#d4d4e8"/>
<rect x="427.47" y="324.00" width="41.17" height="33.10" fill="#3f007d"/>
<rect x="468.33" y="324.00" width="41.17" height="33.10" fill="#fcfbfd"/>
<rect x="386.60" y="356.80" width="41.17" height="33.10" fill="#faf9fc"/>
<rect x="427.47" y="356.80" width="41.17" height="33.10" fill="#d7d7e9"/>
<rect x="468.33" y="356.80" width="41.17" height="33.10" fill="#fcfbfd"/>
<text x="407.03" y="309.80" font-size="6.3" text-anchor="middle" fill="#ffffff" color="#ffffff" style="stroke:none">0.73</text>
<text x="447.90" y="309.80" font-size="6.3" text-anchor="middle" style="stroke:none">0.10</text>
<text x="488.77" y="309.80" font-size="6.3" text-anchor="middle" style="stroke:none">0.00</text>
<text x="407.03" y="342.60" font-size="6.3" text-anchor="middle" style="stroke:none">0.25</text>
<text x="447.90" y="342.60" font-size="6.3" text-anchor="middle" fill="#ffffff" color="#ffffff" style="stroke:none">0.91</text>
<text x="488.77" y="342.60" font-size="6.3" text-anchor="middle" style="stroke:none">0.00</text>
<text x="407.03" y="375.40" font-size="6.3" text-anchor="middle" style="stroke:none">0.02</text>
<text x="447.90" y="375.40" font-size="6.3" text-anchor="middle" style="stroke:none">0.24</text>
<text x="488.77" y="375.40" font-size="6.3" text-anchor="middle" style="stroke:none">0.00</text>
<line x1="427.47" y1="291.2" x2="427.47" y2="389.6" stroke="#ffffff" stroke-width="0.7" stroke-opacity="0.85"/>
<line x1="386.6" y1="324.00" x2="509.20000000000005" y2="324.00" stroke="#ffffff" stroke-width="0.7" stroke-opacity="0.85"/>
<line x1="468.33" y1="291.2" x2="468.33" y2="389.6" stroke="#ffffff" stroke-width="0.7" stroke-opacity="0.85"/>
<line x1="386.6" y1="356.80" x2="509.20000000000005" y2="356.80" stroke="#ffffff" stroke-width="0.7" stroke-opacity="0.85"/>
<rect x="386.6" y="291.2" width="122.6" height="98.4" fill="none" stroke="#a3a3a3" stroke-width="0.7"/>
<rect x="517.0" y="291.2" width="4.6" height="98.4" fill="url(#cb2)"/>
<line x1="521.6" y1="389.6" x2="523.6" y2="389.6" stroke="#777" stroke-width="0.5"/>
<text x="524.80" y="391.05" font-size="4.2" text-anchor="start" style="stroke:none">0.0</text>
<line x1="521.6" y1="368.0" x2="523.6" y2="368.0" stroke="#777" stroke-width="0.5"/>
<text x="524.80" y="369.42" font-size="4.2" text-anchor="start" style="stroke:none">0.2</text>
<line x1="521.6" y1="346.3" x2="523.6" y2="346.3" stroke="#777" stroke-width="0.5"/>
<text x="524.80" y="347.80" font-size="4.2" text-anchor="start" style="stroke:none">0.4</text>
<line x1="521.6" y1="324.7" x2="523.6" y2="324.7" stroke="#777" stroke-width="0.5"/>
<text x="524.80" y="326.17" font-size="4.2" text-anchor="start" style="stroke:none">0.6</text>
<line x1="521.6" y1="303.1" x2="523.6" y2="303.1" stroke="#777" stroke-width="0.5"/>
<text x="524.80" y="304.54" font-size="4.2" text-anchor="start" style="stroke:none">0.8</text>
<line x1="407.0" y1="389.6" x2="407.0" y2="391.0" stroke="#a3a3a3" stroke-width="0.5"/>
<text x="407.03" y="396.20" font-size="5.6" text-anchor="middle" textLength="12.4" lengthAdjust="spacingAndGlyphs">High</text>
<line x1="386.6" y1="307.6" x2="385.20000000000005" y2="307.6" stroke="#a3a3a3" stroke-width="0.5"/>
<text x="383.80" y="307.60" font-size="5.6" text-anchor="middle" textLength="12.4" lengthAdjust="spacingAndGlyphs" transform="rotate(-90 383.80 307.60)">High</text>
<line x1="447.9" y1="389.6" x2="447.9" y2="391.0" stroke="#a3a3a3" stroke-width="0.5"/>
<text x="447.90" y="396.20" font-size="5.6" text-anchor="middle" textLength="21.6" lengthAdjust="spacingAndGlyphs">Medium</text>
<line x1="386.6" y1="340.4" x2="385.20000000000005" y2="340.4" stroke="#a3a3a3" stroke-width="0.5"/>
<text x="383.80" y="340.40" font-size="5.6" text-anchor="middle" textLength="21.6" lengthAdjust="spacingAndGlyphs" transform="rotate(-90 383.80 340.40)">Medium</text>
<line x1="488.8" y1="389.6" x2="488.8" y2="391.0" stroke="#a3a3a3" stroke-width="0.5"/>
<text x="488.77" y="396.20" font-size="5.6" text-anchor="middle" textLength="10.4" lengthAdjust="spacingAndGlyphs">Low</text>
<line x1="386.6" y1="373.2" x2="385.20000000000005" y2="373.2" stroke="#a3a3a3" stroke-width="0.5"/>
<text x="383.80" y="373.20" font-size="5.6" text-anchor="middle" textLength="10.4" lengthAdjust="spacingAndGlyphs" transform="rotate(-90 383.80 373.20)">Low</text>
<text x="447.90" y="288.60" font-size="7.5" text-anchor="middle" textLength="38.0" lengthAdjust="spacingAndGlyphs">i) tab-DNN</text>
<text x="447.90" y="404.60" font-size="7.9" text-anchor="middle" textLength="84.6" lengthAdjust="spacingAndGlyphs">Predicted performance</text>
<text x="375.00" y="340.50" font-size="8.2" text-anchor="middle" textLength="85.6" lengthAdjust="spacingAndGlyphs" transform="rotate(-90 375.00 340.50)">Observed performance</text>
<text x="276.40" y="15.10" font-size="8.6" text-anchor="middle" font-weight="bold" fill="#000000" color="#000000" textLength="206.3" lengthAdjust="spacingAndGlyphs">Tabular machine learning model results</text></svg>
</body></html>
